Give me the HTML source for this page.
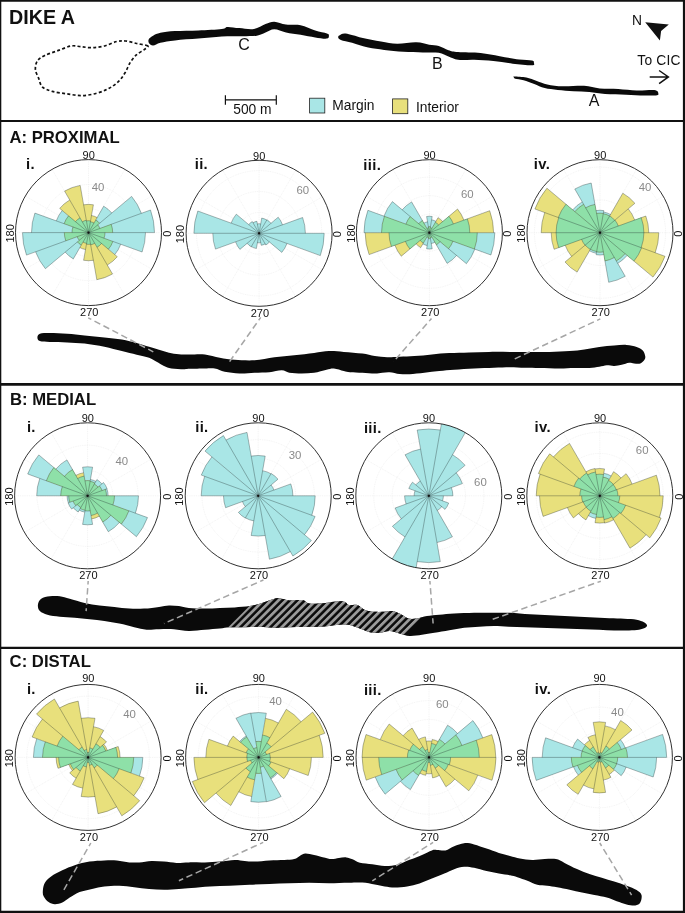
<!DOCTYPE html>
<html lang="en"><head><meta charset="utf-8"><title>Dike A rose diagrams</title>
<style>
html,body{margin:0;padding:0;background:#fff}
body{width:685px;height:913px;overflow:hidden}
svg{display:block}
text{font-family:"Liberation Sans",sans-serif;fill:#111}
.h1{font-weight:700;font-size:19.7px}
.h2{font-weight:700;font-size:16.7px}
.n{font-weight:700;font-size:14.8px;letter-spacing:.35px}
.l{font-size:13.8px}
.l3{font-size:16px}
.l2{font-size:13.8px;letter-spacing:.2px}
.t{font-size:11px;text-anchor:middle}
.g{font-size:11.4px;fill:#8a8a8a;text-anchor:middle}
</style></head><body>
<svg width="685" height="913" viewBox="0 0 685 913">
<defs><pattern id="hatch" width="5.3" height="5.3" patternUnits="userSpaceOnUse" patternTransform="rotate(45) translate(0 0)"><rect width="5.3" height="5.3" fill="#0a0a0a"/><rect width="2.75" height="5.3" fill="#9a9a9a"/></pattern></defs>
<rect width="685" height="913" fill="#fff"/>
<path d="M147.8 46C146.6 44.9 140.3 44.3 136.6 43.5C132.9 42.7 128.8 41.3 125.5 41C122.2 40.7 120.3 40.7 116.8 41.5C113.3 42.3 108.5 44.9 104.4 46C100.2 47 95.9 47.6 92 47.7C88 47.8 84.3 47 80.8 46.7C77.3 46.4 74.8 45.3 70.9 46C66.9 46.7 61.6 49.4 57.2 50.9C52.9 52.5 48.1 53.8 44.8 55.4C41.5 57.1 38.9 58.5 37.4 60.9C35.8 63.2 35.2 66.7 35.4 69.6C35.6 72.4 37.5 75.3 38.6 78.2C39.8 81.1 40.1 84.7 42.3 86.9C44.6 89.1 48.1 90.2 52.3 91.4C56.4 92.5 62.2 93.2 67.1 93.9C72.1 94.6 77.1 95.7 82 95.6C87 95.5 92.4 94.4 96.9 93.1C101.5 91.9 105.6 90.2 109.3 88.2C113.1 86.1 116.6 83.4 119.3 80.7C121.9 78 123.6 75.1 125.5 72C127.3 68.9 128.6 65 130.4 62.1C132.3 59.2 134.4 56.7 136.6 54.7C138.9 52.6 142.2 51.1 144.1 49.7C145.9 48.3 149 47 147.8 46Z" fill="none" stroke="#111" stroke-width="1.7" stroke-dasharray="3 2.3"/>
<path d="M148.8 39.2C149.4 37.9 151.2 36.8 153.1 35.7C155.1 34.6 156.8 33.6 160.4 32.8C164.1 32 168.7 31.4 175 31C181.4 30.6 190.6 30.8 198.4 30.4C206.2 30.1 216.9 29.6 221.8 29C226.6 28.4 224.7 27.1 227.6 26.9C230.5 26.8 234.9 27.8 239.3 28.1C243.6 28.4 249.5 29.7 253.9 29C258.2 28.3 262.1 25.2 265.5 24C269 22.8 270.9 21.6 274.3 21.7C277.7 21.8 281.6 24 286 24.6C290.4 25.2 295.7 24.2 300.6 25.2C305.5 26.2 310.8 29.1 315.2 30.4C319.6 31.8 324.6 32.5 326.9 33.4C329.1 34.2 328.9 34.5 328.9 35.4C328.9 36.3 329.1 38.3 326.9 38.6C324.6 39 319.6 38.1 315.2 37.4C310.8 36.8 305.5 35.6 300.6 34.8C295.7 34 290.4 33.4 286 32.5C281.6 31.6 277.7 29.3 274.3 29.3C270.9 29.3 268.5 31.4 265.5 32.5C262.6 33.6 260.7 35.1 256.8 35.7C252.9 36.3 248 36.1 242.2 36.3C236.4 36.4 229.1 36.2 221.8 36.6C214.5 37 206.2 38 198.4 38.6C190.6 39.2 181.4 39.7 175 40.4C168.7 41 164.1 41.8 160.4 42.7C156.8 43.6 155 45.5 153.1 45.6C151.2 45.7 149.8 44.4 149.1 43.3C148.3 42.2 148.1 40.5 148.8 39.2Z" fill="#0a0a0a"/>
<path d="M339.3 35.4C340.5 34.7 341.9 33.1 345.7 33.5C349.4 33.9 355.9 36.3 361.7 37.7C367.6 39 375.1 40.5 381 41.5C386.9 42.5 391.2 43.7 397.1 43.8C403 43.9 411 42 416.3 42.2C421.7 42.3 425.4 44.1 429.2 44.7C432.9 45.4 435.6 45.1 438.8 46C442 46.9 445.2 49.2 448.5 50.2C451.7 51.2 452.7 51.6 458.1 52.1C463.4 52.6 473.6 52.4 480.6 53.1C487.5 53.8 493.4 55.2 499.8 56.3C506.3 57.4 513.7 58.8 519.1 59.5C524.5 60.2 529.5 59.9 531.9 60.5C534.4 61 533.9 61.9 533.9 62.7C533.9 63.5 535.5 65.1 531.9 65.3C528.4 65.4 519.1 64.4 512.7 63.7C506.3 63 499.8 61.7 493.4 61.1C487 60.5 480 60 474.1 59.8C468.3 59.6 462.4 60.4 458.1 59.8C453.8 59.3 451.7 57.8 448.5 56.6C445.2 55.4 443.1 53.5 438.8 52.8C434.5 52.1 428.6 52.6 422.8 52.4C416.9 52.3 409.9 52.2 403.5 51.8C397.1 51.4 390.1 50.6 384.2 49.9C378.3 49.2 373.5 48.8 368.2 47.6C362.8 46.4 356.7 44.1 352.1 42.8C347.6 41.5 343.2 40.8 340.9 39.9C338.6 39.1 338.6 38.4 338.3 37.7C338 36.9 338 36.1 339.3 35.4Z" fill="#0a0a0a"/>
<path d="M514.5 76.6C516.5 76.6 522.6 76.9 526.3 77.6C530 78.3 533.3 79.9 536.8 81C540.3 82.2 542.9 83.6 547.3 84.4C551.7 85.3 556.9 86.1 563.1 86.3C569.2 86.5 577.9 85.4 584.1 85.7C590.2 86.1 594.1 87.9 599.8 88.4C605.5 88.9 612.1 88.6 618.2 88.9C624.4 89.3 630.9 90.3 636.6 90.5C642.3 90.7 649 89.9 652.4 90C655.8 90 656.2 90.5 657.1 91C658.1 91.5 658.2 92.4 658.2 93.1C658.2 93.8 659.4 94.8 657.1 95.2C654.8 95.6 649.7 95.6 644.5 95.5C639.3 95.4 632.7 94.9 626.1 94.7C619.5 94.4 611.2 94.3 605.1 93.9C599 93.5 594.6 92.5 589.3 92.1C584.1 91.6 578.8 91.6 573.6 91.3C568.3 90.9 562.6 90.5 557.8 90C553 89.4 548.6 89.1 544.7 88.1C540.7 87.1 537.7 85.2 534.2 83.9C530.7 82.6 526.8 81.1 523.6 80.2C520.5 79.4 516.9 79.1 515.2 78.7C513.6 78.2 514.1 78 513.9 77.6C513.8 77.3 512.4 76.6 514.5 76.6Z" fill="#0a0a0a"/>
<text class="h1" x="9" y="24">DIKE A</text>
<text class="l3" x="244" y="49.6" text-anchor="middle">C</text>
<text class="l3" x="437.4" y="68.8" text-anchor="middle">B</text>
<text class="l3" x="594.1" y="105.8" text-anchor="middle">A</text>
<text class="l2" x="631.9" y="24.9">N</text>
<path d="M645.2 22.3L668.8 24.5L661.1 30.9L659.9 40.5Z" fill="#111"/>
<text class="l2" x="637.3" y="65.4">To CIC</text>
<path d="M649.7 76.9H668M659.1 70.5L668.4 76.9L659.1 83.6" fill="none" stroke="#111" stroke-width="1.5"/>
<path d="M225.4 99.8H276.3M225.4 95.2V104.7M276.3 95.2V104.7" fill="none" stroke="#111" stroke-width="1.2"/>
<text class="l" x="252.4" y="114" text-anchor="middle">500 m</text>
<rect x="309.6" y="98.2" width="15.2" height="14.8" fill="#A9E6E6" stroke="#222" stroke-width="0.8"/>
<text class="l" x="332.3" y="110.2">Margin</text>
<rect x="392.6" y="98.9" width="15.2" height="14.8" fill="#E8E07C" stroke="#222" stroke-width="0.8"/>
<text class="l" x="416" y="111.6">Interior</text>
<text class="h2" x="9.4" y="142.9">A: PROXIMAL</text>
<text class="h2" x="9.9" y="404.9">B: MEDIAL</text>
<text class="h2" x="9.6" y="666.7">C: DISTAL</text>
<path d="M37.4 337.4C37.4 336.2 37.8 334.4 39.9 333.7C42 332.9 45.3 332.9 49.9 332.9C54.5 332.9 61.4 333.3 67.2 333.7C73 334.1 78.4 334.8 84.6 335.4C90.8 336 98.2 336.7 104.4 337.4C110.6 338.1 116.4 338.5 121.8 339.4C127.2 340.3 132.1 341.7 136.7 342.9C141.2 344.1 145.4 345.6 149.1 346.8C152.8 348 155.7 348.8 159 349.8C162.3 350.8 165.7 352.1 169 352.8C172.3 353.6 175.4 354 178.9 354.3C182.4 354.6 185.7 354.4 190 354.4C194.3 354.4 199.9 353.8 204.9 354.4C209.9 355 214.8 356.9 219.8 357.8C224.8 358.7 228.9 359.4 234.7 359.8C240.5 360.2 247.9 360.7 254.5 360.3C261.1 359.9 267.8 358.1 274.4 357.3C281 356.5 287.6 356 294.2 355.3C300.8 354.6 308.3 353.6 314.1 352.9C319.9 352.2 324.1 351.3 329 351.1C333.9 350.9 338.2 351.5 343.8 351.9C349.4 352.3 357.2 352.9 362.4 353.6C367.6 354.3 370.7 355.5 374.8 356.1C378.9 356.7 383.1 357.2 387.2 357.3C391.3 357.4 395.1 357 399.6 356.8C404.2 356.6 409.1 356.5 414.5 356.1C419.9 355.7 426.1 354.9 431.9 354.4C437.7 353.9 443.1 353.4 449.3 353.1C455.5 352.8 462.5 352.6 469.1 352.4C475.7 352.2 482.2 352 489 351.9C495.8 351.8 503.2 351.9 510 351.9C516.8 351.9 523.3 351.9 529.9 351.9C536.5 351.9 543.1 352 549.7 351.9C556.3 351.8 563.8 351.5 569.6 351.1C575.4 350.7 579.5 350.1 584.4 349.4C589.3 348.7 594.3 347.6 599.3 346.9C604.3 346.2 609.7 345.7 614.2 345.4C618.8 345.1 622.9 344.6 626.6 344.9C630.3 345.1 633.9 346 636.6 346.9C639.3 347.8 641.4 348.9 642.8 350.4C644.2 351.9 644.9 354.5 645.2 356.1C645.5 357.7 645.3 358.6 644.5 359.8C643.7 361 642 362.9 640.3 363.5C638.6 364.1 636 363.6 634.1 363.5C632.2 363.4 631.2 362.6 629.1 362.8C627 363 624.2 364.3 621.7 364.8C619.2 365.3 616.7 365.9 614.2 366C611.7 366.1 609.3 365.2 606.8 365.3C604.3 365.4 602.2 366.4 599.3 366.8C596.4 367.2 593.5 367.8 589.4 368C585.3 368.2 579.5 367.9 574.5 368C569.5 368.1 565.4 368.5 559.6 368.5C553.8 368.5 545.6 368.1 539.8 368C534 367.9 529.9 367.9 524.9 367.8C519.9 367.7 515.2 367.3 510 367.3C504.8 367.3 499.9 367.6 493.9 367.8C487.9 368 480.7 368.2 474.1 368.5C467.5 368.8 460 369.3 454.2 369.7C448.4 370.1 444.3 370.5 439.3 371C434.3 371.5 429.3 372.2 424.4 372.7C419.4 373.2 413.7 374 409.6 374.2C405.5 374.4 402.9 374.3 399.6 374C396.3 373.7 392.6 372.4 389.7 372.2C386.8 372 384.8 372.5 382.3 372.7C379.8 372.9 378.1 373.5 374.8 373.5C371.5 373.5 366.5 372.9 362.4 372.7C358.3 372.5 353.1 372.5 350 372.2C346.9 371.9 346.5 371.6 343.8 371C341.1 370.4 336.8 368.7 333.9 368.5C331 368.3 329.8 369 326.5 369.7C323.2 370.4 318.2 372.1 314.1 372.7C310 373.3 305.8 373.5 301.7 373.5C297.6 373.5 292.6 373.2 289.3 372.7C286 372.1 285.1 370.3 281.8 370.2C278.5 370.1 273.9 371.8 269.4 372.2C264.8 372.6 259.5 372.5 254.5 372.7C249.5 372.9 244.6 373.7 239.6 373.5C234.6 373.3 228.8 372.5 224.7 371.7C220.6 370.9 218.1 369 214.8 368.5C211.5 368 209 368.4 204.9 368.5C200.8 368.6 193.5 368.7 190 368.8C186.5 368.9 186.9 369.3 183.8 369.2C180.7 369.1 174.7 368.9 171.4 368.4C168.1 367.8 166.5 367 164 365.9C161.5 364.8 159.1 363 156.6 361.7C154.1 360.4 152.4 358.9 149.1 357.8C145.8 356.7 141.2 355.9 136.7 354.8C132.1 353.7 127.2 352.4 121.8 351.1C116.4 349.8 110.6 348.1 104.4 346.8C98.2 345.6 90.8 344.3 84.6 343.6C78.4 342.9 73 342.7 67.2 342.4C61.4 342.1 54.5 342.1 49.9 341.9C45.3 341.7 42 341.9 39.9 341.1C37.8 340.4 37.4 338.6 37.4 337.4Z" fill="#0a0a0a"/>
<path d="M37.9 604.9C38.1 602.8 39.2 600.2 41.2 598.7C43.2 597.2 46.8 596.6 49.9 596.2C53 595.8 56.5 595.8 59.8 596.2C63.1 596.6 65.6 597.6 69.7 598.7C73.8 599.8 79.6 601.8 84.6 602.9C89.6 604 94.5 604.7 99.5 605.4C104.5 606.1 109.4 606.4 114.4 606.9C119.4 607.4 124.4 608.3 129.3 608.6C134.2 608.9 139.2 608.9 144.1 608.6C149 608.3 154.8 607.4 159 606.9C163.2 606.4 165.7 605.5 169 605.4C172.3 605.3 175.6 605.7 178.9 606.1C182.2 606.5 184.5 607.5 188.8 607.9C193.1 608.3 199.7 608.6 204.9 608.6C210.1 608.6 214.8 608.1 219.8 607.9C224.8 607.7 229.7 607.7 234.7 607.4C239.7 607.1 245 606.9 249.6 606.1C254.2 605.4 258.3 604 262 602.9C265.7 601.8 269 600.2 271.9 599.4C274.8 598.6 276.4 598 279.3 598.2C282.2 598.4 286 600.1 289.3 600.4C292.6 600.7 296.7 599.9 299.2 599.9C301.7 599.9 302.5 599.8 304.1 600.4C305.8 601 306.6 603.1 309.1 603.6C311.6 604.1 315.7 603.8 319 603.6C322.3 603.4 325.7 602.8 329 602.4C332.3 602 336.2 601.3 338.9 601.2C341.6 601.1 343.5 601.3 345.1 601.9C346.8 602.5 346.8 604.4 348.8 604.9C350.9 605.4 354.7 604.1 357.4 604.9C360.1 605.7 362 608.8 364.9 609.9C367.8 611 371.5 611.5 374.8 611.8C378.1 612.1 381.8 611.9 384.7 611.8C387.6 611.7 389.7 610.8 392.2 611.1C394.7 611.4 396.9 612.4 399.6 613.6C402.3 614.8 405.4 617.7 408.3 618.5C411.2 619.3 413.9 618.9 417 618.5C420.1 618.1 423.2 616.7 426.9 616.1C430.6 615.5 434.8 615.2 439.3 614.8C443.9 614.4 448.4 613.9 454.2 613.6C460 613.3 467.5 612.9 474.1 612.8C480.7 612.7 487.9 612.8 493.9 612.8C499.9 612.8 504 612.5 510 612.8C516 613 523.3 613.9 529.9 614.3C536.5 614.7 543.1 615 549.7 615.3C556.3 615.6 563 616 569.6 616.3C576.2 616.6 582.8 617 589.4 617.3C596 617.6 603.5 618 609.3 618.3C615.1 618.5 619.5 618.5 624.1 618.8C628.7 619 633.3 619.2 636.6 619.8C639.9 620.4 642.3 621.4 644 622.3C645.7 623.2 646.8 624.3 647 625.2C647.2 626.1 646.5 627 645.2 627.7C643.9 628.5 641.7 629.2 639 629.7C636.3 630.2 633.2 630.3 629.1 630.4C625 630.5 619.2 630.5 614.2 630.4C609.2 630.3 604.3 629.9 599.3 629.7C594.3 629.5 589.3 629.4 584.4 629.2C579.5 629 574.5 628.9 569.6 628.7C564.7 628.5 559.7 628.4 554.7 628.2C549.7 628 544.8 627.9 539.8 627.7C534.8 627.5 530.1 627.4 524.9 627.2C519.7 627 514 626.9 508.8 626.7C503.6 626.5 498.9 626 493.9 626C488.9 626 484 626.4 479 626.7C474 627 469.1 627.1 464.1 627.7C459.2 628.3 454.2 629.4 449.3 630.2C444.4 631 438.9 632 434.4 632.7C429.8 633.5 426.1 634.2 422 634.7C417.9 635.2 413.3 636.1 409.6 635.9C405.9 635.7 402.9 634.2 399.6 633.4C396.3 632.6 393 631 389.7 630.9C386.4 630.8 383.1 632.5 379.8 632.7C376.5 632.9 373.2 632.9 369.9 632.2C366.6 631.5 363.4 629.8 359.9 628.5C356.4 627.2 352.3 625.3 348.8 624.7C345.3 624.1 342.2 624.5 338.9 624.7C335.6 624.9 332.3 625.7 329 626C325.7 626.3 323.1 626.6 319 626.7C314.9 626.8 309.1 626.6 304.1 626.7C299.2 626.8 294.2 627 289.3 627.2C284.4 627.4 279.4 627.8 274.4 627.7C269.4 627.6 264.5 626.8 259.5 626.7C254.5 626.6 249.6 627.1 244.6 627.2C239.6 627.3 233.8 627 229.7 627.2C225.6 627.4 223.9 628.1 219.8 628.5C215.7 628.9 210.1 629.3 204.9 629.7C199.7 630.1 194 631 188.8 630.9C183.6 630.8 178.9 629.5 173.9 629.2C168.9 628.9 163.6 629.1 159 629.2C154.4 629.3 150.7 630 146.6 629.7C142.5 629.4 138.8 628.2 134.2 627.2C129.6 626.2 124.3 624.5 119.3 623.5C114.3 622.5 109.4 621.7 104.4 621C99.5 620.3 94.5 619.8 89.6 619.3C84.6 618.8 79.7 618.2 74.7 617.8C69.7 617.4 64.3 617.3 59.8 616.8C55.2 616.3 50.7 615.8 47.4 614.8C44.1 613.8 41.5 612.8 39.9 611.1C38.3 609.5 37.7 607 37.9 604.9Z" fill="#0a0a0a"/>
<clipPath id="hb"><path d="M259.5 596L443 596L399 640L215.5 640Z"/></clipPath>
<path d="M37.9 604.9C38.1 602.8 39.2 600.2 41.2 598.7C43.2 597.2 46.8 596.6 49.9 596.2C53 595.8 56.5 595.8 59.8 596.2C63.1 596.6 65.6 597.6 69.7 598.7C73.8 599.8 79.6 601.8 84.6 602.9C89.6 604 94.5 604.7 99.5 605.4C104.5 606.1 109.4 606.4 114.4 606.9C119.4 607.4 124.4 608.3 129.3 608.6C134.2 608.9 139.2 608.9 144.1 608.6C149 608.3 154.8 607.4 159 606.9C163.2 606.4 165.7 605.5 169 605.4C172.3 605.3 175.6 605.7 178.9 606.1C182.2 606.5 184.5 607.5 188.8 607.9C193.1 608.3 199.7 608.6 204.9 608.6C210.1 608.6 214.8 608.1 219.8 607.9C224.8 607.7 229.7 607.7 234.7 607.4C239.7 607.1 245 606.9 249.6 606.1C254.2 605.4 258.3 604 262 602.9C265.7 601.8 269 600.2 271.9 599.4C274.8 598.6 276.4 598 279.3 598.2C282.2 598.4 286 600.1 289.3 600.4C292.6 600.7 296.7 599.9 299.2 599.9C301.7 599.9 302.5 599.8 304.1 600.4C305.8 601 306.6 603.1 309.1 603.6C311.6 604.1 315.7 603.8 319 603.6C322.3 603.4 325.7 602.8 329 602.4C332.3 602 336.2 601.3 338.9 601.2C341.6 601.1 343.5 601.3 345.1 601.9C346.8 602.5 346.8 604.4 348.8 604.9C350.9 605.4 354.7 604.1 357.4 604.9C360.1 605.7 362 608.8 364.9 609.9C367.8 611 371.5 611.5 374.8 611.8C378.1 612.1 381.8 611.9 384.7 611.8C387.6 611.7 389.7 610.8 392.2 611.1C394.7 611.4 396.9 612.4 399.6 613.6C402.3 614.8 405.4 617.7 408.3 618.5C411.2 619.3 413.9 618.9 417 618.5C420.1 618.1 423.2 616.7 426.9 616.1C430.6 615.5 434.8 615.2 439.3 614.8C443.9 614.4 448.4 613.9 454.2 613.6C460 613.3 467.5 612.9 474.1 612.8C480.7 612.7 487.9 612.8 493.9 612.8C499.9 612.8 504 612.5 510 612.8C516 613 523.3 613.9 529.9 614.3C536.5 614.7 543.1 615 549.7 615.3C556.3 615.6 563 616 569.6 616.3C576.2 616.6 582.8 617 589.4 617.3C596 617.6 603.5 618 609.3 618.3C615.1 618.5 619.5 618.5 624.1 618.8C628.7 619 633.3 619.2 636.6 619.8C639.9 620.4 642.3 621.4 644 622.3C645.7 623.2 646.8 624.3 647 625.2C647.2 626.1 646.5 627 645.2 627.7C643.9 628.5 641.7 629.2 639 629.7C636.3 630.2 633.2 630.3 629.1 630.4C625 630.5 619.2 630.5 614.2 630.4C609.2 630.3 604.3 629.9 599.3 629.7C594.3 629.5 589.3 629.4 584.4 629.2C579.5 629 574.5 628.9 569.6 628.7C564.7 628.5 559.7 628.4 554.7 628.2C549.7 628 544.8 627.9 539.8 627.7C534.8 627.5 530.1 627.4 524.9 627.2C519.7 627 514 626.9 508.8 626.7C503.6 626.5 498.9 626 493.9 626C488.9 626 484 626.4 479 626.7C474 627 469.1 627.1 464.1 627.7C459.2 628.3 454.2 629.4 449.3 630.2C444.4 631 438.9 632 434.4 632.7C429.8 633.5 426.1 634.2 422 634.7C417.9 635.2 413.3 636.1 409.6 635.9C405.9 635.7 402.9 634.2 399.6 633.4C396.3 632.6 393 631 389.7 630.9C386.4 630.8 383.1 632.5 379.8 632.7C376.5 632.9 373.2 632.9 369.9 632.2C366.6 631.5 363.4 629.8 359.9 628.5C356.4 627.2 352.3 625.3 348.8 624.7C345.3 624.1 342.2 624.5 338.9 624.7C335.6 624.9 332.3 625.7 329 626C325.7 626.3 323.1 626.6 319 626.7C314.9 626.8 309.1 626.6 304.1 626.7C299.2 626.8 294.2 627 289.3 627.2C284.4 627.4 279.4 627.8 274.4 627.7C269.4 627.6 264.5 626.8 259.5 626.7C254.5 626.6 249.6 627.1 244.6 627.2C239.6 627.3 233.8 627 229.7 627.2C225.6 627.4 223.9 628.1 219.8 628.5C215.7 628.9 210.1 629.3 204.9 629.7C199.7 630.1 194 631 188.8 630.9C183.6 630.8 178.9 629.5 173.9 629.2C168.9 628.9 163.6 629.1 159 629.2C154.4 629.3 150.7 630 146.6 629.7C142.5 629.4 138.8 628.2 134.2 627.2C129.6 626.2 124.3 624.5 119.3 623.5C114.3 622.5 109.4 621.7 104.4 621C99.5 620.3 94.5 619.8 89.6 619.3C84.6 618.8 79.7 618.2 74.7 617.8C69.7 617.4 64.3 617.3 59.8 616.8C55.2 616.3 50.7 615.8 47.4 614.8C44.1 613.8 41.5 612.8 39.9 611.1C38.3 609.5 37.7 607 37.9 604.9Z" fill="url(#hatch)" clip-path="url(#hb)"/>
<path d="M42.9 890.1C43.1 887.8 43.5 885 44.9 882.7C46.3 880.4 48.2 878.6 51.1 876.5C54 874.4 58.4 872.2 62.3 870.3C66.2 868.4 70.2 866.8 74.7 865.3C79.2 863.8 84.6 862.4 89.6 861.6C94.5 860.8 99.9 860.6 104.4 860.4C108.9 860.2 112.6 860.1 116.8 860.4C121 860.7 125.6 862.1 129.3 862.4C133 862.7 135.5 862.6 139.2 862.4C142.9 862.1 147.5 861 151.6 860.9C155.7 860.8 159.9 861.3 164 861.6C168.1 861.9 172.3 862.8 176.4 862.9C180.5 863 184.1 862.5 188.8 862.4C193.6 862.3 199.7 862.5 204.9 862.4C210.1 862.3 214.8 862 219.8 861.6C224.8 861.2 230.6 860 234.7 859.9C238.8 859.8 241.3 860.6 244.6 860.9C247.9 861.2 250.4 861.7 254.5 861.6C258.6 861.5 264.4 860.7 269.4 860.4C274.4 860.1 280.2 860.1 284.3 859.9C288.4 859.7 291.5 859.9 294.2 859.1C296.9 858.4 298.5 856.4 300.4 855.4C302.3 854.4 303.1 853.5 305.4 853.4C307.7 853.3 311 854.2 314.1 854.9C317.2 855.6 321.1 856.7 324 857.4C326.9 858.1 328.9 859 331.4 859.1C333.9 859.2 336.4 858.2 338.9 857.9C341.4 857.6 344 857.2 346.3 857.4C348.6 857.6 350.2 858.4 352.5 859.3C354.8 860.2 356.6 862 359.9 862.8C363.2 863.6 368.2 863.8 372.3 864.3C376.4 864.8 380.6 865.9 384.7 866C388.8 866.1 393 865.8 397.1 864.8C401.2 863.8 405.5 861.4 409.6 859.8C413.8 858.1 418.3 856.5 422 854.9C425.7 853.3 429.4 851.2 431.9 850.4C434.4 849.6 434.5 849.9 436.8 849.9C439.1 849.9 442.6 851 445.5 850.4C448.4 849.8 451.1 847.4 454.2 846.2C457.3 845 460.8 843.5 464.1 843.2C467.4 842.9 470.4 843.5 474.1 844.4C477.8 845.3 482.4 847.2 486.5 848.6C490.6 850 495 851.7 498.9 852.9C502.8 854.1 506.5 855 510 855.9C513.5 856.8 516.2 857.7 519.9 858.4C523.6 859.1 528.2 859.8 532.3 859.9C536.4 860 540.8 859.2 544.7 859.1C548.6 859 552.6 858.5 555.9 859.1C559.2 859.7 561.1 861.2 564.6 862.9C568.1 864.6 572.9 867.2 577 869.1C581.1 871 585.3 872.6 589.4 874C593.5 875.4 597.7 876.5 601.8 877.7C605.9 879 610.1 880.2 614.2 881.5C618.3 882.8 622.9 884.3 626.6 885.7C630.3 887.1 634.1 888.5 636.6 890.1C639.1 891.7 640.9 893 641.5 895.1C642.1 897.2 641.3 900.9 640.3 902.6C639.3 904.3 637.6 905.2 635.3 905.5C633 905.8 629.7 905.2 626.6 904.5C623.5 903.8 620 902.4 616.7 901.3C613.4 900.1 610.5 898.6 606.8 897.6C603.1 896.6 598.5 895.9 594.4 895.1C590.3 894.3 586.1 893.5 582 892.6C577.9 891.7 573.8 890.6 569.6 889.7C565.5 888.8 560.8 887.9 557.1 887.2C553.4 886.5 550.5 886.1 547.2 885.7C543.9 885.3 540.6 885.5 537.3 884.7C534 883.9 530.7 882 527.4 880.7C524.1 879.5 520.3 878.1 517.4 877.2C514.5 876.3 513.1 875.9 510 875.3C506.9 874.7 502.8 874.2 498.9 873.5C495 872.8 490.6 872 486.5 871C482.4 870 477.8 868.5 474.1 867.8C470.4 867.1 467.4 866.6 464.1 866.8C460.8 867 457.5 868.1 454.2 869.2C450.9 870.3 448 872 444.3 873.5C440.6 875 436 876.8 431.9 878.4C427.8 880 423.6 882 419.5 883.4C415.4 884.8 411.2 885.9 407.1 886.6C403 887.3 398.4 887.6 394.7 887.6C391 887.6 388 887.1 384.7 886.6C381.4 886.1 378.5 885.3 374.8 884.6C371.1 883.9 366.7 882.9 362.4 882.6C358.1 882.3 354.4 882.6 348.8 882.7C343.2 882.8 335.6 883.2 329 883.2C322.4 883.2 315.7 882.7 309.1 882.7C302.5 882.7 295.9 883 289.3 883.2C282.7 883.4 276 883.6 269.4 883.9C262.8 884.1 256.2 884.4 249.6 884.7C243 885 236.3 885.4 229.7 885.7C223.1 886 216.3 886 209.9 886.4C203.5 886.8 196.5 887.6 191.3 888C186.1 888.4 183.5 888.6 178.9 888.9C174.3 889.2 169 889.7 164 889.7C159 889.7 154.1 889.3 149.1 888.9C144.1 888.5 139.2 887.7 134.2 887.2C129.2 886.7 124.3 885.8 119.3 885.7C114.3 885.6 109 885.9 104.4 886.4C99.9 886.9 96.1 887.9 92 888.9C87.9 889.9 83.3 890.6 79.6 892.1C75.9 893.6 72.6 895.9 69.7 897.6C66.8 899.4 64.8 901.5 62.3 902.6C59.8 903.7 57.1 904.4 54.8 904.3C52.5 904.2 50.5 903.4 48.6 902.1C46.7 900.8 44.6 898.3 43.6 896.3C42.6 894.3 42.7 892.4 42.9 890.1Z" fill="#0a0a0a"/>
<clipPath id="c00"><circle cx="88.5" cy="232.6" r="73"/></clipPath>
<g fill="none" stroke="#ebebeb" stroke-width="0.6" stroke-dasharray="1 0.8"><circle cx="88.5" cy="232.6" r="24"/><circle cx="88.5" cy="232.6" r="48"/><path d="M15.5 232.6L161.5 232.6"/><path d="M25.3 269.1L151.7 196.1"/><path d="M52 295.8L125 169.3"/><path d="M88.5 305.6L88.5 159.6"/><path d="M125 295.8L52 169.3"/><path d="M151.7 269.1L25.3 196.1"/></g>
<g clip-path="url(#c00)">
<path fill="#A9E6E6" d="M88.5 232.6L154.5 232.6A66 66 0 0 0 150.5 210ZM88.5 232.6L141.4 213.3A56.3 56.3 0 0 0 131.6 196.4ZM88.5 232.6L111.8 213A30.4 30.4 0 0 0 103.7 206.2ZM88.5 232.6L94 223A11 11 0 0 0 90.4 221.7ZM88.5 232.6L90.5 220.9A11.8 11.8 0 0 0 86.5 220.9ZM88.5 232.6L86.3 220.3A12.4 12.4 0 0 0 82.3 221.8ZM88.5 232.6L80 217.8A17 17 0 0 0 75.5 221.6ZM88.5 232.6L62.2 210.5A34.3 34.3 0 0 0 56.3 220.8ZM88.5 232.6L34.9 213.1A57 57 0 0 0 31.5 232.6ZM88.5 232.6L22.5 232.6A66 66 0 0 0 26.5 255.1ZM88.5 232.6L35.6 251.8A56.3 56.3 0 0 0 45.4 268.7ZM88.5 232.6L65.2 252.1A30.4 30.4 0 0 0 73.3 258.9ZM88.5 232.6L83 242.1A11 11 0 0 0 86.6 243.4ZM88.5 232.6L86.5 244.2A11.8 11.8 0 0 0 90.5 244.2ZM88.5 232.6L90.7 244.8A12.4 12.4 0 0 0 94.7 243.3ZM88.5 232.6L97 247.3A17 17 0 0 0 101.5 243.5ZM88.5 232.6L114.8 254.6A34.3 34.3 0 0 0 120.7 244.3ZM88.5 232.6L142.1 252A57 57 0 0 0 145.5 232.6Z"/>
<path fill="#E8E07C" d="M88.5 232.6L112.7 232.6A24.2 24.2 0 0 0 111.2 224.3ZM88.5 232.6L99.8 228.4A12 12 0 0 0 97.7 224.8ZM88.5 232.6L99.6 223.2A14.5 14.5 0 0 0 95.8 220ZM88.5 232.6L97.2 217.6A17.3 17.3 0 0 0 91.5 215.5ZM88.5 232.6L93.4 204.8A28.2 28.2 0 0 0 83.6 204.8ZM88.5 232.6L80.2 185.4A47.9 47.9 0 0 0 64.6 191.1ZM88.5 232.6L69.7 200A37.6 37.6 0 0 0 59.7 208.4ZM88.5 232.6L68.6 215.8A26 26 0 0 0 64.1 223.7ZM88.5 232.6L73 226.9A16.5 16.5 0 0 0 72 232.6ZM88.5 232.6L64.3 232.6A24.2 24.2 0 0 0 65.8 240.8ZM88.5 232.6L77.2 236.7A12 12 0 0 0 79.3 240.3ZM88.5 232.6L77.4 241.9A14.5 14.5 0 0 0 81.2 245.1ZM88.5 232.6L79.8 247.5A17.3 17.3 0 0 0 85.5 249.6ZM88.5 232.6L83.6 260.3A28.2 28.2 0 0 0 93.4 260.3ZM88.5 232.6L96.8 279.7A47.9 47.9 0 0 0 112.5 274ZM88.5 232.6L107.3 265.1A37.6 37.6 0 0 0 117.3 256.7ZM88.5 232.6L108.4 249.3A26 26 0 0 0 112.9 241.4ZM88.5 232.6L104 238.2A16.5 16.5 0 0 0 105 232.6Z"/>
<path fill="#8EE0A8" d="M88.5 232.6L112.7 232.6A24.2 24.2 0 0 0 111.2 224.3ZM88.5 232.6L99.8 228.4A12 12 0 0 0 97.7 224.8ZM88.5 232.6L99.6 223.2A14.5 14.5 0 0 0 95.8 220ZM88.5 232.6L94 223A11 11 0 0 0 90.4 221.7ZM88.5 232.6L90.5 220.9A11.8 11.8 0 0 0 86.5 220.9ZM88.5 232.6L86.3 220.3A12.4 12.4 0 0 0 82.3 221.8ZM88.5 232.6L80 217.8A17 17 0 0 0 75.5 221.6ZM88.5 232.6L68.6 215.8A26 26 0 0 0 64.1 223.7ZM88.5 232.6L73 226.9A16.5 16.5 0 0 0 72 232.6ZM88.5 232.6L64.3 232.6A24.2 24.2 0 0 0 65.8 240.8ZM88.5 232.6L77.2 236.7A12 12 0 0 0 79.3 240.3ZM88.5 232.6L77.4 241.9A14.5 14.5 0 0 0 81.2 245.1ZM88.5 232.6L83 242.1A11 11 0 0 0 86.6 243.4ZM88.5 232.6L86.5 244.2A11.8 11.8 0 0 0 90.5 244.2ZM88.5 232.6L90.7 244.8A12.4 12.4 0 0 0 94.7 243.3ZM88.5 232.6L97 247.3A17 17 0 0 0 101.5 243.5ZM88.5 232.6L108.4 249.3A26 26 0 0 0 112.9 241.4ZM88.5 232.6L104 238.2A16.5 16.5 0 0 0 105 232.6Z"/>
<path fill="none" stroke="#1f2a2a" stroke-opacity="0.8" stroke-width="0.42" stroke-linejoin="round" d="M154.5 232.6A66 66 0 0 0 150.5 210M112.7 232.6A24.2 24.2 0 0 0 111.2 224.3M88.5 232.6L154.5 232.6M141.4 213.3A56.3 56.3 0 0 0 131.6 196.4M99.8 228.4A12 12 0 0 0 97.7 224.8M88.5 232.6L150.5 210M111.8 213A30.4 30.4 0 0 0 103.7 206.2M99.6 223.2A14.5 14.5 0 0 0 95.8 220M88.5 232.6L131.6 196.4M94 223A11 11 0 0 0 90.4 221.7M97.2 217.6A17.3 17.3 0 0 0 91.5 215.5M88.5 232.6L103.7 206.2M90.5 220.9A11.8 11.8 0 0 0 86.5 220.9M93.4 204.8A28.2 28.2 0 0 0 83.6 204.8M88.5 232.6L93.4 204.8M86.3 220.3A12.4 12.4 0 0 0 82.3 221.8M80.2 185.4A47.9 47.9 0 0 0 64.6 191.1M88.5 232.6L80.2 185.4M80 217.8A17 17 0 0 0 75.5 221.6M69.7 200A37.6 37.6 0 0 0 59.7 208.4M88.5 232.6L64.6 191.1M62.2 210.5A34.3 34.3 0 0 0 56.3 220.8M68.6 215.8A26 26 0 0 0 64.1 223.7M88.5 232.6L59.7 208.4M34.9 213.1A57 57 0 0 0 31.5 232.6M73 226.9A16.5 16.5 0 0 0 72 232.6M88.5 232.6L34.9 213.1M22.5 232.6A66 66 0 0 0 26.5 255.1M64.3 232.6A24.2 24.2 0 0 0 65.8 240.8M88.5 232.6L22.5 232.6M35.6 251.8A56.3 56.3 0 0 0 45.4 268.7M77.2 236.7A12 12 0 0 0 79.3 240.3M88.5 232.6L26.5 255.1M65.2 252.1A30.4 30.4 0 0 0 73.3 258.9M77.4 241.9A14.5 14.5 0 0 0 81.2 245.1M88.5 232.6L45.4 268.7M83 242.1A11 11 0 0 0 86.6 243.4M79.8 247.5A17.3 17.3 0 0 0 85.5 249.6M88.5 232.6L73.3 258.9M86.5 244.2A11.8 11.8 0 0 0 90.5 244.2M83.6 260.3A28.2 28.2 0 0 0 93.4 260.3M88.5 232.6L83.6 260.3M90.7 244.8A12.4 12.4 0 0 0 94.7 243.3M96.8 279.7A47.9 47.9 0 0 0 112.5 274M88.5 232.6L96.8 279.7M97 247.3A17 17 0 0 0 101.5 243.5M107.3 265.1A37.6 37.6 0 0 0 117.3 256.7M88.5 232.6L112.5 274M114.8 254.6A34.3 34.3 0 0 0 120.7 244.3M108.4 249.3A26 26 0 0 0 112.9 241.4M88.5 232.6L117.3 256.7M142.1 252A57 57 0 0 0 145.5 232.6M104 238.2A16.5 16.5 0 0 0 105 232.6M88.5 232.6L142.1 252"/>
</g>
<circle cx="88.5" cy="232.6" r="1.1" fill="#111"/>
<circle cx="88.5" cy="232.6" r="73" fill="none" stroke="#1a1a1a" stroke-width="0.9"/>
<text class="t" x="88.7" y="159">90</text>
<text class="t" x="89.3" y="315.9">270</text>
<text class="t" transform="translate(170.5 233.6) rotate(-90)">0</text>
<text class="t" transform="translate(13.6 233.4) rotate(-90)">180</text>
<text class="g" x="98" y="190.9">40</text>
<text class="n" x="26" y="168.9">i.</text>
<clipPath id="c01"><circle cx="259.1" cy="233.3" r="73"/></clipPath>
<g fill="none" stroke="#ebebeb" stroke-width="0.6" stroke-dasharray="1 0.8"><circle cx="259.1" cy="233.3" r="20.9"/><circle cx="259.1" cy="233.3" r="41.8"/><circle cx="259.1" cy="233.3" r="62.7"/><path d="M186.1 233.3L332.1 233.3"/><path d="M195.8 269.8L322.3 196.8"/><path d="M222.6 296.5L295.6 170.1"/><path d="M259.1 306.3L259.1 160.3"/><path d="M295.6 296.5L222.6 170.1"/><path d="M322.3 269.8L195.8 196.8"/></g>
<g clip-path="url(#c01)">
<path fill="#A9E6E6" d="M259.1 233.3L305.4 233.3A46.3 46.3 0 0 0 302.6 217.5ZM259.1 233.3L282.5 224.7A25 25 0 0 0 278.2 217.2ZM259.1 233.3L271 223.3A15.6 15.6 0 0 0 266.9 219.8ZM259.1 233.3L266.8 220A15.4 15.4 0 0 0 261.7 218.1ZM259.1 233.3L260.7 223.9A9.5 9.5 0 0 0 257.4 223.9ZM259.1 233.3L256.9 221.3A12.2 12.2 0 0 0 253 222.7ZM259.1 233.3L252.3 221.6A13.5 13.5 0 0 0 248.7 224.6ZM259.1 233.3L236.3 214.2A29.7 29.7 0 0 0 231.1 223.1ZM259.1 233.3L197.8 211A65.2 65.2 0 0 0 193.9 233.3ZM259.1 233.3L212.8 233.3A46.3 46.3 0 0 0 215.5 249.1ZM259.1 233.3L235.6 241.9A25 25 0 0 0 239.9 249.4ZM259.1 233.3L247.1 243.3A15.6 15.6 0 0 0 251.2 246.8ZM259.1 233.3L251.3 246.6A15.4 15.4 0 0 0 256.4 248.5ZM259.1 233.3L257.4 242.7A9.5 9.5 0 0 0 260.7 242.7ZM259.1 233.3L261.2 245.3A12.2 12.2 0 0 0 265.2 243.9ZM259.1 233.3L265.8 245A13.5 13.5 0 0 0 269.4 242ZM259.1 233.3L281.8 252.4A29.7 29.7 0 0 0 287 243.5ZM259.1 233.3L320.3 255.6A65.2 65.2 0 0 0 324.2 233.3Z"/>
<path fill="none" stroke="#1f2a2a" stroke-opacity="0.8" stroke-width="0.42" stroke-linejoin="round" d="M305.4 233.3A46.3 46.3 0 0 0 302.6 217.5M259.1 233.3L324.2 233.3M282.5 224.7A25 25 0 0 0 278.2 217.2M259.1 233.3L302.6 217.5M271 223.3A15.6 15.6 0 0 0 266.9 219.8M259.1 233.3L278.2 217.2M266.8 220A15.4 15.4 0 0 0 261.7 218.1M259.1 233.3L266.9 219.8M260.7 223.9A9.5 9.5 0 0 0 257.4 223.9M259.1 233.3L261.7 218.1M256.9 221.3A12.2 12.2 0 0 0 253 222.7M259.1 233.3L256.9 221.3M252.3 221.6A13.5 13.5 0 0 0 248.7 224.6M259.1 233.3L252.3 221.6M236.3 214.2A29.7 29.7 0 0 0 231.1 223.1M259.1 233.3L236.3 214.2M197.8 211A65.2 65.2 0 0 0 193.9 233.3M259.1 233.3L197.8 211M212.8 233.3A46.3 46.3 0 0 0 215.5 249.1M259.1 233.3L193.9 233.3M235.6 241.9A25 25 0 0 0 239.9 249.4M259.1 233.3L215.5 249.1M247.1 243.3A15.6 15.6 0 0 0 251.2 246.8M259.1 233.3L239.9 249.4M251.3 246.6A15.4 15.4 0 0 0 256.4 248.5M259.1 233.3L251.2 246.8M257.4 242.7A9.5 9.5 0 0 0 260.7 242.7M259.1 233.3L256.4 248.5M261.2 245.3A12.2 12.2 0 0 0 265.2 243.9M259.1 233.3L261.2 245.3M265.8 245A13.5 13.5 0 0 0 269.4 242M259.1 233.3L265.8 245M281.8 252.4A29.7 29.7 0 0 0 287 243.5M259.1 233.3L281.8 252.4M320.3 255.6A65.2 65.2 0 0 0 324.2 233.3M259.1 233.3L320.3 255.6"/>
</g>
<circle cx="259.1" cy="233.3" r="1.1" fill="#111"/>
<circle cx="259.1" cy="233.3" r="73" fill="none" stroke="#1a1a1a" stroke-width="0.9"/>
<text class="t" x="259.2" y="159.7">90</text>
<text class="t" x="259.9" y="316.6">270</text>
<text class="t" transform="translate(341.1 234.3) rotate(-90)">0</text>
<text class="t" transform="translate(184.2 234.1) rotate(-90)">180</text>
<text class="g" x="302.8" y="194.4">60</text>
<text class="n" x="194.7" y="168.8">ii.</text>
<clipPath id="c02"><circle cx="429.4" cy="232.7" r="73"/></clipPath>
<g fill="none" stroke="#ebebeb" stroke-width="0.6" stroke-dasharray="1 0.8"><circle cx="429.4" cy="232.7" r="18.5"/><circle cx="429.4" cy="232.7" r="37"/><circle cx="429.4" cy="232.7" r="55.6"/><path d="M356.4 232.7L502.4 232.7"/><path d="M366.2 269.1L492.6 196.2"/><path d="M392.9 295.9L465.9 169.4"/><path d="M429.4 305.6L429.4 159.7"/><path d="M465.9 295.9L392.9 169.4"/><path d="M492.6 269.1L366.2 196.2"/></g>
<g clip-path="url(#c02)">
<path fill="#A9E6E6" d="M429.4 232.7L469.8 232.7A40.4 40.4 0 0 0 467.4 218.8ZM429.4 232.7L453.4 223.9A25.5 25.5 0 0 0 448.9 216.3ZM429.4 232.7L438.6 224.9A12 12 0 0 0 435.4 222.3ZM429.4 232.7L435.9 221.4A13 13 0 0 0 431.7 219.8ZM429.4 232.7L432.2 216.5A16.4 16.4 0 0 0 426.6 216.5ZM429.4 232.7L427.5 221.8A11 11 0 0 0 423.9 223.1ZM429.4 232.7L411.6 201.9A35.5 35.5 0 0 0 402.2 209.8ZM429.4 232.7L392.4 201.6A48.3 48.3 0 0 0 384 216.1ZM429.4 232.7L367.9 210.3A65.4 65.4 0 0 0 364 232.7ZM429.4 232.7L389 232.7A40.4 40.4 0 0 0 391.4 246.5ZM429.4 232.7L405.4 241.4A25.5 25.5 0 0 0 409.9 249ZM429.4 232.7L420.2 240.4A12 12 0 0 0 423.4 243ZM429.4 232.7L422.9 243.9A13 13 0 0 0 427.1 245.5ZM429.4 232.7L426.6 248.8A16.4 16.4 0 0 0 432.2 248.8ZM429.4 232.7L431.3 243.5A11 11 0 0 0 434.9 242.2ZM429.4 232.7L447.1 263.4A35.5 35.5 0 0 0 456.6 255.5ZM429.4 232.7L466.4 263.7A48.3 48.3 0 0 0 474.8 249.2ZM429.4 232.7L490.9 255A65.4 65.4 0 0 0 494.8 232.7Z"/>
<path fill="#E8E07C" d="M429.4 232.7L493.6 232.7A64.2 64.2 0 0 0 489.7 210.7ZM429.4 232.7L463.9 220.1A36.7 36.7 0 0 0 457.5 209.1ZM429.4 232.7L442.7 221.5A17.3 17.3 0 0 0 438 217.7ZM429.4 232.7L431.9 228.3A5 5 0 0 0 430.3 227.7ZM429.4 232.7L430.4 226.7A6 6 0 0 0 428.4 226.7ZM429.4 232.7L428.5 227.7A5 5 0 0 0 426.9 228.3ZM429.4 232.7L422.4 220.5A14 14 0 0 0 418.7 223.7ZM429.4 232.7L410.2 216.6A25 25 0 0 0 405.9 224.1ZM429.4 232.7L384.4 216.3A47.9 47.9 0 0 0 381.5 232.7ZM429.4 232.7L365.2 232.7A64.2 64.2 0 0 0 369.1 254.6ZM429.4 232.7L394.9 245.2A36.7 36.7 0 0 0 401.3 256.2ZM429.4 232.7L416.1 243.8A17.3 17.3 0 0 0 420.7 247.6ZM429.4 232.7L426.9 237A5 5 0 0 0 428.5 237.6ZM429.4 232.7L428.4 238.6A6 6 0 0 0 430.4 238.6ZM429.4 232.7L430.3 237.6A5 5 0 0 0 431.9 237ZM429.4 232.7L436.4 244.8A14 14 0 0 0 440.1 241.6ZM429.4 232.7L448.6 248.7A25 25 0 0 0 452.9 241.2ZM429.4 232.7L474.4 249A47.9 47.9 0 0 0 477.3 232.7Z"/>
<path fill="#8EE0A8" d="M429.4 232.7L469.8 232.7A40.4 40.4 0 0 0 467.4 218.8ZM429.4 232.7L453.4 223.9A25.5 25.5 0 0 0 448.9 216.3ZM429.4 232.7L438.6 224.9A12 12 0 0 0 435.4 222.3ZM429.4 232.7L431.9 228.3A5 5 0 0 0 430.3 227.7ZM429.4 232.7L430.4 226.7A6 6 0 0 0 428.4 226.7ZM429.4 232.7L428.5 227.7A5 5 0 0 0 426.9 228.3ZM429.4 232.7L422.4 220.5A14 14 0 0 0 418.7 223.7ZM429.4 232.7L410.2 216.6A25 25 0 0 0 405.9 224.1ZM429.4 232.7L384.4 216.3A47.9 47.9 0 0 0 381.5 232.7ZM429.4 232.7L389 232.7A40.4 40.4 0 0 0 391.4 246.5ZM429.4 232.7L405.4 241.4A25.5 25.5 0 0 0 409.9 249ZM429.4 232.7L420.2 240.4A12 12 0 0 0 423.4 243ZM429.4 232.7L426.9 237A5 5 0 0 0 428.5 237.6ZM429.4 232.7L428.4 238.6A6 6 0 0 0 430.4 238.6ZM429.4 232.7L430.3 237.6A5 5 0 0 0 431.9 237ZM429.4 232.7L436.4 244.8A14 14 0 0 0 440.1 241.6ZM429.4 232.7L448.6 248.7A25 25 0 0 0 452.9 241.2ZM429.4 232.7L474.4 249A47.9 47.9 0 0 0 477.3 232.7Z"/>
<path fill="none" stroke="#1f2a2a" stroke-opacity="0.8" stroke-width="0.42" stroke-linejoin="round" d="M469.8 232.7A40.4 40.4 0 0 0 467.4 218.8M493.6 232.7A64.2 64.2 0 0 0 489.7 210.7M429.4 232.7L494.8 232.7M453.4 223.9A25.5 25.5 0 0 0 448.9 216.3M463.9 220.1A36.7 36.7 0 0 0 457.5 209.1M429.4 232.7L489.7 210.7M438.6 224.9A12 12 0 0 0 435.4 222.3M442.7 221.5A17.3 17.3 0 0 0 438 217.7M429.4 232.7L457.5 209.1M435.9 221.4A13 13 0 0 0 431.7 219.8M431.9 228.3A5 5 0 0 0 430.3 227.7M429.4 232.7L438 217.7M432.2 216.5A16.4 16.4 0 0 0 426.6 216.5M430.4 226.7A6 6 0 0 0 428.4 226.7M429.4 232.7L432.2 216.5M427.5 221.8A11 11 0 0 0 423.9 223.1M428.5 227.7A5 5 0 0 0 426.9 228.3M429.4 232.7L426.6 216.5M411.6 201.9A35.5 35.5 0 0 0 402.2 209.8M422.4 220.5A14 14 0 0 0 418.7 223.7M429.4 232.7L411.6 201.9M392.4 201.6A48.3 48.3 0 0 0 384 216.1M410.2 216.6A25 25 0 0 0 405.9 224.1M429.4 232.7L392.4 201.6M367.9 210.3A65.4 65.4 0 0 0 364 232.7M384.4 216.3A47.9 47.9 0 0 0 381.5 232.7M429.4 232.7L367.9 210.3M389 232.7A40.4 40.4 0 0 0 391.4 246.5M365.2 232.7A64.2 64.2 0 0 0 369.1 254.6M429.4 232.7L364 232.7M405.4 241.4A25.5 25.5 0 0 0 409.9 249M394.9 245.2A36.7 36.7 0 0 0 401.3 256.2M429.4 232.7L369.1 254.6M420.2 240.4A12 12 0 0 0 423.4 243M416.1 243.8A17.3 17.3 0 0 0 420.7 247.6M429.4 232.7L401.3 256.2M422.9 243.9A13 13 0 0 0 427.1 245.5M426.9 237A5 5 0 0 0 428.5 237.6M429.4 232.7L420.7 247.6M426.6 248.8A16.4 16.4 0 0 0 432.2 248.8M428.4 238.6A6 6 0 0 0 430.4 238.6M429.4 232.7L426.6 248.8M431.3 243.5A11 11 0 0 0 434.9 242.2M430.3 237.6A5 5 0 0 0 431.9 237M429.4 232.7L432.2 248.8M447.1 263.4A35.5 35.5 0 0 0 456.6 255.5M436.4 244.8A14 14 0 0 0 440.1 241.6M429.4 232.7L447.1 263.4M466.4 263.7A48.3 48.3 0 0 0 474.8 249.2M448.6 248.7A25 25 0 0 0 452.9 241.2M429.4 232.7L466.4 263.7M490.9 255A65.4 65.4 0 0 0 494.8 232.7M474.4 249A47.9 47.9 0 0 0 477.3 232.7M429.4 232.7L490.9 255"/>
</g>
<circle cx="429.4" cy="232.7" r="1.1" fill="#111"/>
<circle cx="429.4" cy="232.7" r="73" fill="none" stroke="#1a1a1a" stroke-width="0.9"/>
<text class="t" x="429.6" y="159.1">90</text>
<text class="t" x="430.2" y="315.9">270</text>
<text class="t" transform="translate(511.4 233.7) rotate(-90)">0</text>
<text class="t" transform="translate(354.5 233.5) rotate(-90)">180</text>
<text class="g" x="467.3" y="198">60</text>
<text class="n" x="363.3" y="169.7">iii.</text>
<clipPath id="c03"><circle cx="600" cy="232.7" r="73"/></clipPath>
<g fill="none" stroke="#ebebeb" stroke-width="0.6" stroke-dasharray="1 0.8"><circle cx="600" cy="232.7" r="32.8"/><circle cx="600" cy="232.7" r="65.6"/><path d="M527 232.7L673 232.7"/><path d="M536.7 269.1L663.2 196.2"/><path d="M563.5 295.9L636.5 169.4"/><path d="M600 305.6L600 159.7"/><path d="M636.5 295.9L563.5 169.4"/><path d="M663.2 269.1L536.7 196.2"/></g>
<g clip-path="url(#c03)">
<path fill="#A9E6E6" d="M600 232.7L643.9 232.7A43.9 43.9 0 0 0 641.2 217.6ZM600 232.7L618.3 226A19.5 19.5 0 0 0 614.9 220.1ZM600 232.7L614.7 220.2A19.3 19.3 0 0 0 609.6 215.9ZM600 232.7L610.5 214.5A21 21 0 0 0 603.6 212ZM600 232.7L603.8 210.6A22.4 22.4 0 0 0 596.1 210.6ZM600 232.7L591.2 183A50.4 50.4 0 0 0 574.8 189ZM600 232.7L582.2 201.9A35.5 35.5 0 0 0 572.8 209.8ZM600 232.7L566 204.2A44.3 44.3 0 0 0 558.3 217.5ZM600 232.7L558.7 217.6A43.9 43.9 0 0 0 556.1 232.7ZM600 232.7L556.1 232.7A43.9 43.9 0 0 0 558.7 247.7ZM600 232.7L581.6 239.3A19.5 19.5 0 0 0 585 245.2ZM600 232.7L585.2 245.1A19.3 19.3 0 0 0 590.3 249.4ZM600 232.7L589.5 250.8A21 21 0 0 0 596.3 253.3ZM600 232.7L596.1 254.7A22.4 22.4 0 0 0 603.8 254.7ZM600 232.7L608.7 282.3A50.4 50.4 0 0 0 625.2 276.3ZM600 232.7L617.7 263.4A35.5 35.5 0 0 0 627.1 255.5ZM600 232.7L633.9 261.1A44.3 44.3 0 0 0 641.6 247.8ZM600 232.7L641.2 247.7A43.9 43.9 0 0 0 643.9 232.7Z"/>
<path fill="#E8E07C" d="M600 232.7L648.8 232.7A48.8 48.8 0 0 0 645.8 216ZM600 232.7L634.7 220A37 37 0 0 0 628.3 208.9ZM600 232.7L634.9 203.3A45.6 45.6 0 0 0 622.8 193.2ZM600 232.7L609.6 216A19.2 19.2 0 0 0 603.3 213.7ZM600 232.7L603.3 213.4A19.5 19.5 0 0 0 596.6 213.4ZM600 232.7L595 204.4A28.7 28.7 0 0 0 585.6 207.8ZM600 232.7L583.6 204.3A32.7 32.7 0 0 0 574.9 211.6ZM600 232.7L546.9 188.2A69.2 69.2 0 0 0 534.9 209ZM600 232.7L544.7 212.5A58.8 58.8 0 0 0 541.2 232.7ZM600 232.7L551.2 232.7A48.8 48.8 0 0 0 554.1 249.3ZM600 232.7L565.2 245.3A37 37 0 0 0 571.6 256.4ZM600 232.7L565 262A45.6 45.6 0 0 0 577.1 272.1ZM600 232.7L590.4 249.3A19.2 19.2 0 0 0 596.6 251.6ZM600 232.7L596.6 251.9A19.5 19.5 0 0 0 603.3 251.9ZM600 232.7L604.9 260.9A28.7 28.7 0 0 0 614.3 257.5ZM600 232.7L616.3 261A32.7 32.7 0 0 0 625 253.7ZM600 232.7L653 277.1A69.2 69.2 0 0 0 665 256.3ZM600 232.7L655.2 252.8A58.8 58.8 0 0 0 658.8 232.7Z"/>
<path fill="#8EE0A8" d="M600 232.7L643.9 232.7A43.9 43.9 0 0 0 641.2 217.6ZM600 232.7L618.3 226A19.5 19.5 0 0 0 614.9 220.1ZM600 232.7L614.7 220.2A19.3 19.3 0 0 0 609.6 215.9ZM600 232.7L609.6 216A19.2 19.2 0 0 0 603.3 213.7ZM600 232.7L603.3 213.4A19.5 19.5 0 0 0 596.6 213.4ZM600 232.7L595 204.4A28.7 28.7 0 0 0 585.6 207.8ZM600 232.7L583.6 204.3A32.7 32.7 0 0 0 574.9 211.6ZM600 232.7L566 204.2A44.3 44.3 0 0 0 558.3 217.5ZM600 232.7L558.7 217.6A43.9 43.9 0 0 0 556.1 232.7ZM600 232.7L556.1 232.7A43.9 43.9 0 0 0 558.7 247.7ZM600 232.7L581.6 239.3A19.5 19.5 0 0 0 585 245.2ZM600 232.7L585.2 245.1A19.3 19.3 0 0 0 590.3 249.4ZM600 232.7L590.4 249.3A19.2 19.2 0 0 0 596.6 251.6ZM600 232.7L596.6 251.9A19.5 19.5 0 0 0 603.3 251.9ZM600 232.7L604.9 260.9A28.7 28.7 0 0 0 614.3 257.5ZM600 232.7L616.3 261A32.7 32.7 0 0 0 625 253.7ZM600 232.7L633.9 261.1A44.3 44.3 0 0 0 641.6 247.8ZM600 232.7L641.2 247.7A43.9 43.9 0 0 0 643.9 232.7Z"/>
<path fill="none" stroke="#1f2a2a" stroke-opacity="0.8" stroke-width="0.42" stroke-linejoin="round" d="M643.9 232.7A43.9 43.9 0 0 0 641.2 217.6M648.8 232.7A48.8 48.8 0 0 0 645.8 216M600 232.7L658.8 232.7M618.3 226A19.5 19.5 0 0 0 614.9 220.1M634.7 220A37 37 0 0 0 628.3 208.9M600 232.7L645.8 216M614.7 220.2A19.3 19.3 0 0 0 609.6 215.9M634.9 203.3A45.6 45.6 0 0 0 622.8 193.2M600 232.7L634.9 203.3M610.5 214.5A21 21 0 0 0 603.6 212M609.6 216A19.2 19.2 0 0 0 603.3 213.7M600 232.7L622.8 193.2M603.8 210.6A22.4 22.4 0 0 0 596.1 210.6M603.3 213.4A19.5 19.5 0 0 0 596.6 213.4M600 232.7L603.8 210.6M591.2 183A50.4 50.4 0 0 0 574.8 189M595 204.4A28.7 28.7 0 0 0 585.6 207.8M600 232.7L591.2 183M582.2 201.9A35.5 35.5 0 0 0 572.8 209.8M583.6 204.3A32.7 32.7 0 0 0 574.9 211.6M600 232.7L574.8 189M566 204.2A44.3 44.3 0 0 0 558.3 217.5M546.9 188.2A69.2 69.2 0 0 0 534.9 209M600 232.7L546.9 188.2M558.7 217.6A43.9 43.9 0 0 0 556.1 232.7M544.7 212.5A58.8 58.8 0 0 0 541.2 232.7M600 232.7L534.9 209M556.1 232.7A43.9 43.9 0 0 0 558.7 247.7M551.2 232.7A48.8 48.8 0 0 0 554.1 249.3M600 232.7L541.2 232.7M581.6 239.3A19.5 19.5 0 0 0 585 245.2M565.2 245.3A37 37 0 0 0 571.6 256.4M600 232.7L554.1 249.3M585.2 245.1A19.3 19.3 0 0 0 590.3 249.4M565 262A45.6 45.6 0 0 0 577.1 272.1M600 232.7L565 262M589.5 250.8A21 21 0 0 0 596.3 253.3M590.4 249.3A19.2 19.2 0 0 0 596.6 251.6M600 232.7L577.1 272.1M596.1 254.7A22.4 22.4 0 0 0 603.8 254.7M596.6 251.9A19.5 19.5 0 0 0 603.3 251.9M600 232.7L596.1 254.7M608.7 282.3A50.4 50.4 0 0 0 625.2 276.3M604.9 260.9A28.7 28.7 0 0 0 614.3 257.5M600 232.7L608.7 282.3M617.7 263.4A35.5 35.5 0 0 0 627.1 255.5M616.3 261A32.7 32.7 0 0 0 625 253.7M600 232.7L625.2 276.3M633.9 261.1A44.3 44.3 0 0 0 641.6 247.8M653 277.1A69.2 69.2 0 0 0 665 256.3M600 232.7L653 277.1M641.2 247.7A43.9 43.9 0 0 0 643.9 232.7M655.2 252.8A58.8 58.8 0 0 0 658.8 232.7M600 232.7L665 256.3"/>
</g>
<circle cx="600" cy="232.7" r="1.1" fill="#111"/>
<circle cx="600" cy="232.7" r="73" fill="none" stroke="#1a1a1a" stroke-width="0.9"/>
<text class="t" x="600.2" y="159.1">90</text>
<text class="t" x="600.8" y="315.9">270</text>
<text class="t" transform="translate(682 233.7) rotate(-90)">0</text>
<text class="t" transform="translate(525.1 233.5) rotate(-90)">180</text>
<text class="g" x="645" y="190.9">40</text>
<text class="n" x="533.8" y="168.9">iv.</text>
<clipPath id="c10"><circle cx="87.6" cy="495.8" r="73"/></clipPath>
<g fill="none" stroke="#ebebeb" stroke-width="0.6" stroke-dasharray="1 0.8"><circle cx="87.6" cy="495.8" r="25.3"/><circle cx="87.6" cy="495.8" r="50.6"/><path d="M14.6 495.8L160.6 495.8"/><path d="M24.4 532.3L150.8 459.3"/><path d="M51.1 559L124.1 432.6"/><path d="M87.6 568.8L87.6 422.8"/><path d="M124.1 559L51.1 432.6"/><path d="M150.8 532.3L24.4 459.3"/></g>
<g clip-path="url(#c10)">
<path fill="#A9E6E6" d="M87.6 495.8L108.1 495.8A20.5 20.5 0 0 0 106.9 488.8ZM87.6 495.8L107.1 488.7A20.7 20.7 0 0 0 103.5 482.5ZM87.6 495.8L101.9 483.8A18.7 18.7 0 0 0 96.9 479.6ZM87.6 495.8L95.9 481.4A16.6 16.6 0 0 0 90.5 479.5ZM87.6 495.8L92.6 467.2A29 29 0 0 0 82.6 467.2ZM87.6 495.8L84.1 476.1A20 20 0 0 0 77.6 478.5ZM87.6 495.8L66.9 459.9A41.5 41.5 0 0 0 55.8 469.1ZM87.6 495.8L38.8 454.9A63.7 63.7 0 0 0 27.7 474ZM87.6 495.8L39.8 478.4A50.9 50.9 0 0 0 36.7 495.8ZM87.6 495.8L67.1 495.8A20.5 20.5 0 0 0 68.3 502.8ZM87.6 495.8L68.1 502.9A20.7 20.7 0 0 0 71.7 509.1ZM87.6 495.8L73.3 507.8A18.7 18.7 0 0 0 78.2 512ZM87.6 495.8L79.3 510.2A16.6 16.6 0 0 0 84.7 512.1ZM87.6 495.8L82.6 524.4A29 29 0 0 0 92.6 524.4ZM87.6 495.8L91.1 515.5A20 20 0 0 0 97.6 513.1ZM87.6 495.8L108.3 531.7A41.5 41.5 0 0 0 119.4 522.5ZM87.6 495.8L136.4 536.7A63.7 63.7 0 0 0 147.5 517.6ZM87.6 495.8L135.4 513.2A50.9 50.9 0 0 0 138.5 495.8Z"/>
<path fill="#E8E07C" d="M87.6 495.8L106.5 495.8A18.9 18.9 0 0 0 105.4 489.3ZM87.6 495.8L102.1 490.5A15.4 15.4 0 0 0 99.4 485.9ZM87.6 495.8L98 487.1A13.6 13.6 0 0 0 94.4 484ZM87.6 495.8L94.9 483.1A14.7 14.7 0 0 0 90.2 481.3ZM87.6 495.8L90.2 480.8A15.2 15.2 0 0 0 85 480.8ZM87.6 495.8L83.5 472.7A23.5 23.5 0 0 0 75.8 475.4ZM87.6 495.8L72.5 469.6A30.3 30.3 0 0 0 64.4 476.3ZM87.6 495.8L53.9 467.5A44 44 0 0 0 46.3 480.8ZM87.6 495.8L62.3 486.6A26.9 26.9 0 0 0 60.7 495.8ZM87.6 495.8L68.7 495.8A18.9 18.9 0 0 0 69.8 502.3ZM87.6 495.8L73.1 501.1A15.4 15.4 0 0 0 75.8 505.7ZM87.6 495.8L77.2 504.5A13.6 13.6 0 0 0 80.8 507.6ZM87.6 495.8L80.2 508.5A14.7 14.7 0 0 0 85 510.3ZM87.6 495.8L85 510.8A15.2 15.2 0 0 0 90.2 510.8ZM87.6 495.8L91.7 518.9A23.5 23.5 0 0 0 99.3 516.2ZM87.6 495.8L102.8 522A30.3 30.3 0 0 0 110.8 515.3ZM87.6 495.8L121.3 524.1A44 44 0 0 0 128.9 510.8ZM87.6 495.8L112.9 505A26.9 26.9 0 0 0 114.5 495.8Z"/>
<path fill="#8EE0A8" d="M87.6 495.8L106.5 495.8A18.9 18.9 0 0 0 105.4 489.3ZM87.6 495.8L102.1 490.5A15.4 15.4 0 0 0 99.4 485.9ZM87.6 495.8L98 487.1A13.6 13.6 0 0 0 94.4 484ZM87.6 495.8L94.9 483.1A14.7 14.7 0 0 0 90.2 481.3ZM87.6 495.8L90.2 480.8A15.2 15.2 0 0 0 85 480.8ZM87.6 495.8L84.1 476.1A20 20 0 0 0 77.6 478.5ZM87.6 495.8L72.5 469.6A30.3 30.3 0 0 0 64.4 476.3ZM87.6 495.8L53.9 467.5A44 44 0 0 0 46.3 480.8ZM87.6 495.8L62.3 486.6A26.9 26.9 0 0 0 60.7 495.8ZM87.6 495.8L68.7 495.8A18.9 18.9 0 0 0 69.8 502.3ZM87.6 495.8L73.1 501.1A15.4 15.4 0 0 0 75.8 505.7ZM87.6 495.8L77.2 504.5A13.6 13.6 0 0 0 80.8 507.6ZM87.6 495.8L80.2 508.5A14.7 14.7 0 0 0 85 510.3ZM87.6 495.8L85 510.8A15.2 15.2 0 0 0 90.2 510.8ZM87.6 495.8L91.1 515.5A20 20 0 0 0 97.6 513.1ZM87.6 495.8L102.8 522A30.3 30.3 0 0 0 110.8 515.3ZM87.6 495.8L121.3 524.1A44 44 0 0 0 128.9 510.8ZM87.6 495.8L112.9 505A26.9 26.9 0 0 0 114.5 495.8Z"/>
<path fill="none" stroke="#1f2a2a" stroke-opacity="0.8" stroke-width="0.42" stroke-linejoin="round" d="M108.1 495.8A20.5 20.5 0 0 0 106.9 488.8M106.5 495.8A18.9 18.9 0 0 0 105.4 489.3M87.6 495.8L138.5 495.8M107.1 488.7A20.7 20.7 0 0 0 103.5 482.5M102.1 490.5A15.4 15.4 0 0 0 99.4 485.9M87.6 495.8L107.1 488.7M101.9 483.8A18.7 18.7 0 0 0 96.9 479.6M98 487.1A13.6 13.6 0 0 0 94.4 484M87.6 495.8L103.5 482.5M95.9 481.4A16.6 16.6 0 0 0 90.5 479.5M94.9 483.1A14.7 14.7 0 0 0 90.2 481.3M87.6 495.8L96.9 479.6M92.6 467.2A29 29 0 0 0 82.6 467.2M90.2 480.8A15.2 15.2 0 0 0 85 480.8M87.6 495.8L92.6 467.2M84.1 476.1A20 20 0 0 0 77.6 478.5M83.5 472.7A23.5 23.5 0 0 0 75.8 475.4M87.6 495.8L82.6 467.2M66.9 459.9A41.5 41.5 0 0 0 55.8 469.1M72.5 469.6A30.3 30.3 0 0 0 64.4 476.3M87.6 495.8L66.9 459.9M38.8 454.9A63.7 63.7 0 0 0 27.7 474M53.9 467.5A44 44 0 0 0 46.3 480.8M87.6 495.8L38.8 454.9M39.8 478.4A50.9 50.9 0 0 0 36.7 495.8M62.3 486.6A26.9 26.9 0 0 0 60.7 495.8M87.6 495.8L27.7 474M67.1 495.8A20.5 20.5 0 0 0 68.3 502.8M68.7 495.8A18.9 18.9 0 0 0 69.8 502.3M87.6 495.8L36.7 495.8M68.1 502.9A20.7 20.7 0 0 0 71.7 509.1M73.1 501.1A15.4 15.4 0 0 0 75.8 505.7M87.6 495.8L68.1 502.9M73.3 507.8A18.7 18.7 0 0 0 78.2 512M77.2 504.5A13.6 13.6 0 0 0 80.8 507.6M87.6 495.8L71.7 509.1M79.3 510.2A16.6 16.6 0 0 0 84.7 512.1M80.2 508.5A14.7 14.7 0 0 0 85 510.3M87.6 495.8L78.2 512M82.6 524.4A29 29 0 0 0 92.6 524.4M85 510.8A15.2 15.2 0 0 0 90.2 510.8M87.6 495.8L82.6 524.4M91.1 515.5A20 20 0 0 0 97.6 513.1M91.7 518.9A23.5 23.5 0 0 0 99.3 516.2M87.6 495.8L92.6 524.4M108.3 531.7A41.5 41.5 0 0 0 119.4 522.5M102.8 522A30.3 30.3 0 0 0 110.8 515.3M87.6 495.8L108.3 531.7M136.4 536.7A63.7 63.7 0 0 0 147.5 517.6M121.3 524.1A44 44 0 0 0 128.9 510.8M87.6 495.8L136.4 536.7M135.4 513.2A50.9 50.9 0 0 0 138.5 495.8M112.9 505A26.9 26.9 0 0 0 114.5 495.8M87.6 495.8L147.5 517.6"/>
</g>
<circle cx="87.6" cy="495.8" r="1.1" fill="#111"/>
<circle cx="87.6" cy="495.8" r="73" fill="none" stroke="#1a1a1a" stroke-width="0.9"/>
<text class="t" x="87.8" y="421.6">90</text>
<text class="t" x="88.4" y="579.1">270</text>
<text class="t" transform="translate(170.6 496.8) rotate(-90)">0</text>
<text class="t" transform="translate(12.7 496.6) rotate(-90)">180</text>
<text class="g" x="121.8" y="464.5">40</text>
<text class="n" x="26.9" y="431.9">i.</text>
<clipPath id="c11"><circle cx="258.2" cy="495.8" r="73"/></clipPath>
<g fill="none" stroke="#ebebeb" stroke-width="0.6" stroke-dasharray="1 0.8"><circle cx="258.2" cy="495.8" r="18.7"/><circle cx="258.2" cy="495.8" r="37.5"/><circle cx="258.2" cy="495.8" r="56.2"/><path d="M185.2 495.8L331.2 495.8"/><path d="M195 532.3L321.4 459.3"/><path d="M221.7 559L294.7 432.6"/><path d="M258.2 568.8L258.2 422.8"/><path d="M294.7 559L221.7 432.6"/><path d="M321.4 532.3L195 459.3"/></g>
<g clip-path="url(#c11)">
<path fill="#A9E6E6" d="M258.2 495.8L292.9 495.8A34.7 34.7 0 0 0 290.8 483.9ZM258.2 495.8L274 490.1A16.8 16.8 0 0 0 271.1 485ZM258.2 495.8L278 479.2A25.8 25.8 0 0 0 271.1 473.5ZM258.2 495.8L270.9 473.7A25.5 25.5 0 0 0 262.6 470.7ZM258.2 495.8L265.2 456.1A40.3 40.3 0 0 0 251.2 456.1ZM258.2 495.8L247 432.4A64.4 64.4 0 0 0 226 440ZM258.2 495.8L223.4 435.6A69.5 69.5 0 0 0 205 451.1ZM258.2 495.8L211.9 456.9A60.5 60.5 0 0 0 201.3 475.1ZM258.2 495.8L204.6 476.3A57 57 0 0 0 201.2 495.8ZM258.2 495.8L223.5 495.8A34.7 34.7 0 0 0 225.6 507.7ZM258.2 495.8L242.4 501.5A16.8 16.8 0 0 0 245.3 506.6ZM258.2 495.8L238.4 512.4A25.8 25.8 0 0 0 245.3 518.1ZM258.2 495.8L245.4 517.9A25.5 25.5 0 0 0 253.8 520.9ZM258.2 495.8L251.2 535.5A40.3 40.3 0 0 0 265.2 535.5ZM258.2 495.8L269.4 559.2A64.4 64.4 0 0 0 290.4 551.6ZM258.2 495.8L292.9 556A69.5 69.5 0 0 0 311.4 540.5ZM258.2 495.8L304.5 534.7A60.5 60.5 0 0 0 315.1 516.5ZM258.2 495.8L311.8 515.3A57 57 0 0 0 315.2 495.8Z"/>
<path fill="none" stroke="#1f2a2a" stroke-opacity="0.8" stroke-width="0.42" stroke-linejoin="round" d="M292.9 495.8A34.7 34.7 0 0 0 290.8 483.9M258.2 495.8L315.2 495.8M274 490.1A16.8 16.8 0 0 0 271.1 485M258.2 495.8L290.8 483.9M278 479.2A25.8 25.8 0 0 0 271.1 473.5M258.2 495.8L278 479.2M270.9 473.7A25.5 25.5 0 0 0 262.6 470.7M258.2 495.8L271.1 473.5M265.2 456.1A40.3 40.3 0 0 0 251.2 456.1M258.2 495.8L265.2 456.1M247 432.4A64.4 64.4 0 0 0 226 440M258.2 495.8L247 432.4M223.4 435.6A69.5 69.5 0 0 0 205 451.1M258.2 495.8L223.4 435.6M211.9 456.9A60.5 60.5 0 0 0 201.3 475.1M258.2 495.8L205 451.1M204.6 476.3A57 57 0 0 0 201.2 495.8M258.2 495.8L201.3 475.1M223.5 495.8A34.7 34.7 0 0 0 225.6 507.7M258.2 495.8L201.2 495.8M242.4 501.5A16.8 16.8 0 0 0 245.3 506.6M258.2 495.8L225.6 507.7M238.4 512.4A25.8 25.8 0 0 0 245.3 518.1M258.2 495.8L238.4 512.4M245.4 517.9A25.5 25.5 0 0 0 253.8 520.9M258.2 495.8L245.3 518.1M251.2 535.5A40.3 40.3 0 0 0 265.2 535.5M258.2 495.8L251.2 535.5M269.4 559.2A64.4 64.4 0 0 0 290.4 551.6M258.2 495.8L269.4 559.2M292.9 556A69.5 69.5 0 0 0 311.4 540.5M258.2 495.8L292.9 556M304.5 534.7A60.5 60.5 0 0 0 315.1 516.5M258.2 495.8L311.4 540.5M311.8 515.3A57 57 0 0 0 315.2 495.8M258.2 495.8L315.1 516.5"/>
</g>
<circle cx="258.2" cy="495.8" r="1.1" fill="#111"/>
<circle cx="258.2" cy="495.8" r="73" fill="none" stroke="#1a1a1a" stroke-width="0.9"/>
<text class="t" x="258.4" y="421.6">90</text>
<text class="t" x="259" y="579.1">270</text>
<text class="t" transform="translate(341.2 496.8) rotate(-90)">0</text>
<text class="t" transform="translate(183.3 496.6) rotate(-90)">180</text>
<text class="g" x="295.1" y="459.3">30</text>
<text class="n" x="195.2" y="431.9">ii.</text>
<clipPath id="c12"><circle cx="428.8" cy="495.8" r="73"/></clipPath>
<g fill="none" stroke="#ebebeb" stroke-width="0.6" stroke-dasharray="1 0.8"><circle cx="428.8" cy="495.8" r="18.4"/><circle cx="428.8" cy="495.8" r="36.7"/><circle cx="428.8" cy="495.8" r="55.1"/><path d="M355.8 495.8L501.8 495.8"/><path d="M365.5 532.3L492 459.3"/><path d="M392.2 559L465.2 432.6"/><path d="M428.8 568.8L428.8 422.8"/><path d="M465.2 559L392.2 432.6"/><path d="M492 532.3L365.5 459.3"/></g>
<g clip-path="url(#c12)">
<path fill="#A9E6E6" d="M428.8 495.8L452.9 495.8A24.1 24.1 0 0 0 451.4 487.6ZM428.8 495.8L462.4 483.6A35.8 35.8 0 0 0 456.2 472.8ZM428.8 495.8L465.1 465.3A47.5 47.5 0 0 0 452.5 454.7ZM428.8 495.8L466.8 430A76 76 0 0 0 441.9 421ZM428.8 495.8L440.3 430A66.8 66.8 0 0 0 417.2 430ZM428.8 495.8L420.5 449.1A47.4 47.4 0 0 0 405.1 454.8ZM428.8 495.8L420.2 481.1A17 17 0 0 0 415.7 484.9ZM428.8 495.8L412.5 482.2A21.2 21.2 0 0 0 408.8 488.5ZM428.8 495.8L415 490.8A14.6 14.6 0 0 0 414.1 495.8ZM428.8 495.8L404.6 495.8A24.1 24.1 0 0 0 406.1 504ZM428.8 495.8L395.1 508A35.8 35.8 0 0 0 401.3 518.8ZM428.8 495.8L392.4 526.3A47.5 47.5 0 0 0 405 536.9ZM428.8 495.8L390.7 561.6A76 76 0 0 0 415.6 570.6ZM428.8 495.8L417.2 561.6A66.8 66.8 0 0 0 440.3 561.6ZM428.8 495.8L437 542.5A47.4 47.4 0 0 0 452.4 536.8ZM428.8 495.8L437.2 510.5A17 17 0 0 0 441.8 506.7ZM428.8 495.8L445 509.4A21.2 21.2 0 0 0 448.7 503.1ZM428.8 495.8L442.5 500.8A14.6 14.6 0 0 0 443.4 495.8Z"/>
<path fill="none" stroke="#1f2a2a" stroke-opacity="0.8" stroke-width="0.42" stroke-linejoin="round" d="M452.9 495.8A24.1 24.1 0 0 0 451.4 487.6M428.8 495.8L452.9 495.8M462.4 483.6A35.8 35.8 0 0 0 456.2 472.8M428.8 495.8L462.4 483.6M465.1 465.3A47.5 47.5 0 0 0 452.5 454.7M428.8 495.8L465.1 465.3M466.8 430A76 76 0 0 0 441.9 421M428.8 495.8L466.8 430M440.3 430A66.8 66.8 0 0 0 417.2 430M428.8 495.8L441.9 421M420.5 449.1A47.4 47.4 0 0 0 405.1 454.8M428.8 495.8L417.2 430M420.2 481.1A17 17 0 0 0 415.7 484.9M428.8 495.8L405.1 454.8M412.5 482.2A21.2 21.2 0 0 0 408.8 488.5M428.8 495.8L412.5 482.2M415 490.8A14.6 14.6 0 0 0 414.1 495.8M428.8 495.8L408.8 488.5M404.6 495.8A24.1 24.1 0 0 0 406.1 504M428.8 495.8L404.6 495.8M395.1 508A35.8 35.8 0 0 0 401.3 518.8M428.8 495.8L395.1 508M392.4 526.3A47.5 47.5 0 0 0 405 536.9M428.8 495.8L392.4 526.3M390.7 561.6A76 76 0 0 0 415.6 570.6M428.8 495.8L390.7 561.6M417.2 561.6A66.8 66.8 0 0 0 440.3 561.6M428.8 495.8L415.6 570.6M437 542.5A47.4 47.4 0 0 0 452.4 536.8M428.8 495.8L440.3 561.6M437.2 510.5A17 17 0 0 0 441.8 506.7M428.8 495.8L452.4 536.8M445 509.4A21.2 21.2 0 0 0 448.7 503.1M428.8 495.8L445 509.4M442.5 500.8A14.6 14.6 0 0 0 443.4 495.8M428.8 495.8L448.7 503.1"/>
</g>
<circle cx="428.8" cy="495.8" r="1.1" fill="#111"/>
<circle cx="428.8" cy="495.8" r="73" fill="none" stroke="#1a1a1a" stroke-width="0.9"/>
<text class="t" x="428.9" y="421.6">90</text>
<text class="t" x="429.6" y="579.1">270</text>
<text class="t" transform="translate(511.8 496.8) rotate(-90)">0</text>
<text class="t" transform="translate(353.9 496.6) rotate(-90)">180</text>
<text class="g" x="480.4" y="485.5">60</text>
<text class="n" x="363.9" y="432.8">iii.</text>
<clipPath id="c13"><circle cx="599.8" cy="495.8" r="73"/></clipPath>
<g fill="none" stroke="#ebebeb" stroke-width="0.6" stroke-dasharray="1 0.8"><circle cx="599.8" cy="495.8" r="21.2"/><circle cx="599.8" cy="495.8" r="42.4"/><circle cx="599.8" cy="495.8" r="63.6"/><path d="M526.8 495.8L672.8 495.8"/><path d="M536.5 532.3L663 459.3"/><path d="M563.2 559L636.2 432.6"/><path d="M599.8 568.8L599.8 422.8"/><path d="M636.2 559L563.2 432.6"/><path d="M663 532.3L536.5 459.3"/></g>
<g clip-path="url(#c13)">
<path fill="#A9E6E6" d="M599.8 495.8L617.9 495.8A18.1 18.1 0 0 0 616.8 489.6ZM599.8 495.8L616.3 489.8A17.6 17.6 0 0 0 613.2 484.5ZM599.8 495.8L613.4 484.4A17.8 17.8 0 0 0 608.6 480.4ZM599.8 495.8L611.2 476A22.9 22.9 0 0 0 603.7 473.2ZM599.8 495.8L603.5 474.5A21.6 21.6 0 0 0 596 474.5ZM599.8 495.8L595.5 472A24.2 24.2 0 0 0 587.6 474.8ZM599.8 495.8L586.6 473.1A26.2 26.2 0 0 0 579.7 479ZM599.8 495.8L578.7 478.1A27.5 27.5 0 0 0 573.9 486.4ZM599.8 495.8L581 489A20 20 0 0 0 579.8 495.8ZM599.8 495.8L581.6 495.8A18.1 18.1 0 0 0 582.7 502ZM599.8 495.8L583.2 501.8A17.6 17.6 0 0 0 586.3 507.1ZM599.8 495.8L586.1 507.2A17.8 17.8 0 0 0 590.9 511.2ZM599.8 495.8L588.3 515.6A22.9 22.9 0 0 0 595.8 518.4ZM599.8 495.8L596 517.1A21.6 21.6 0 0 0 603.5 517.1ZM599.8 495.8L604 519.6A24.2 24.2 0 0 0 611.9 516.8ZM599.8 495.8L612.9 518.5A26.2 26.2 0 0 0 619.8 512.6ZM599.8 495.8L620.8 513.5A27.5 27.5 0 0 0 625.6 505.2ZM599.8 495.8L618.5 502.6A20 20 0 0 0 619.8 495.8Z"/>
<path fill="#E8E07C" d="M599.8 495.8L660 495.8A60.3 60.3 0 0 0 656.4 475.2ZM599.8 495.8L632.1 484A34.4 34.4 0 0 0 626.1 473.7ZM599.8 495.8L621 477.9A27.8 27.8 0 0 0 613.6 471.7ZM599.8 495.8L609.2 479.3A19 19 0 0 0 603 477.1ZM599.8 495.8L604.5 468.9A27.3 27.3 0 0 0 595 468.9ZM599.8 495.8L594.9 468.5A27.7 27.7 0 0 0 585.9 471.8ZM599.8 495.8L569.5 443.4A60.5 60.5 0 0 0 553.4 456.9ZM599.8 495.8L549.7 453.8A65.3 65.3 0 0 0 538.4 473.5ZM599.8 495.8L540.1 474.1A63.5 63.5 0 0 0 536.2 495.8ZM599.8 495.8L539.5 495.8A60.3 60.3 0 0 0 543.1 516.4ZM599.8 495.8L567.4 507.6A34.4 34.4 0 0 0 573.4 517.9ZM599.8 495.8L578.5 513.7A27.8 27.8 0 0 0 585.9 519.9ZM599.8 495.8L590.2 512.3A19 19 0 0 0 596.5 514.5ZM599.8 495.8L595 522.7A27.3 27.3 0 0 0 604.5 522.7ZM599.8 495.8L604.6 523.1A27.7 27.7 0 0 0 613.6 519.8ZM599.8 495.8L630 548.2A60.5 60.5 0 0 0 646.1 534.7ZM599.8 495.8L649.8 537.8A65.3 65.3 0 0 0 661.1 518.1ZM599.8 495.8L659.4 517.5A63.5 63.5 0 0 0 663.2 495.8Z"/>
<path fill="#8EE0A8" d="M599.8 495.8L617.9 495.8A18.1 18.1 0 0 0 616.8 489.6ZM599.8 495.8L616.3 489.8A17.6 17.6 0 0 0 613.2 484.5ZM599.8 495.8L613.4 484.4A17.8 17.8 0 0 0 608.6 480.4ZM599.8 495.8L609.2 479.3A19 19 0 0 0 603 477.1ZM599.8 495.8L603.5 474.5A21.6 21.6 0 0 0 596 474.5ZM599.8 495.8L595.5 472A24.2 24.2 0 0 0 587.6 474.8ZM599.8 495.8L586.6 473.1A26.2 26.2 0 0 0 579.7 479ZM599.8 495.8L578.7 478.1A27.5 27.5 0 0 0 573.9 486.4ZM599.8 495.8L581 489A20 20 0 0 0 579.8 495.8ZM599.8 495.8L581.6 495.8A18.1 18.1 0 0 0 582.7 502ZM599.8 495.8L583.2 501.8A17.6 17.6 0 0 0 586.3 507.1ZM599.8 495.8L586.1 507.2A17.8 17.8 0 0 0 590.9 511.2ZM599.8 495.8L590.2 512.3A19 19 0 0 0 596.5 514.5ZM599.8 495.8L596 517.1A21.6 21.6 0 0 0 603.5 517.1ZM599.8 495.8L604 519.6A24.2 24.2 0 0 0 611.9 516.8ZM599.8 495.8L612.9 518.5A26.2 26.2 0 0 0 619.8 512.6ZM599.8 495.8L620.8 513.5A27.5 27.5 0 0 0 625.6 505.2ZM599.8 495.8L618.5 502.6A20 20 0 0 0 619.8 495.8Z"/>
<path fill="none" stroke="#1f2a2a" stroke-opacity="0.8" stroke-width="0.42" stroke-linejoin="round" d="M617.9 495.8A18.1 18.1 0 0 0 616.8 489.6M660 495.8A60.3 60.3 0 0 0 656.4 475.2M599.8 495.8L663.2 495.8M616.3 489.8A17.6 17.6 0 0 0 613.2 484.5M632.1 484A34.4 34.4 0 0 0 626.1 473.7M599.8 495.8L656.4 475.2M613.4 484.4A17.8 17.8 0 0 0 608.6 480.4M621 477.9A27.8 27.8 0 0 0 613.6 471.7M599.8 495.8L626.1 473.7M611.2 476A22.9 22.9 0 0 0 603.7 473.2M609.2 479.3A19 19 0 0 0 603 477.1M599.8 495.8L613.6 471.7M603.5 474.5A21.6 21.6 0 0 0 596 474.5M604.5 468.9A27.3 27.3 0 0 0 595 468.9M599.8 495.8L604.5 468.9M595.5 472A24.2 24.2 0 0 0 587.6 474.8M594.9 468.5A27.7 27.7 0 0 0 585.9 471.8M599.8 495.8L594.9 468.5M586.6 473.1A26.2 26.2 0 0 0 579.7 479M569.5 443.4A60.5 60.5 0 0 0 553.4 456.9M599.8 495.8L569.5 443.4M578.7 478.1A27.5 27.5 0 0 0 573.9 486.4M549.7 453.8A65.3 65.3 0 0 0 538.4 473.5M599.8 495.8L549.7 453.8M581 489A20 20 0 0 0 579.8 495.8M540.1 474.1A63.5 63.5 0 0 0 536.2 495.8M599.8 495.8L538.4 473.5M581.6 495.8A18.1 18.1 0 0 0 582.7 502M539.5 495.8A60.3 60.3 0 0 0 543.1 516.4M599.8 495.8L536.2 495.8M583.2 501.8A17.6 17.6 0 0 0 586.3 507.1M567.4 507.6A34.4 34.4 0 0 0 573.4 517.9M599.8 495.8L543.1 516.4M586.1 507.2A17.8 17.8 0 0 0 590.9 511.2M578.5 513.7A27.8 27.8 0 0 0 585.9 519.9M599.8 495.8L573.4 517.9M588.3 515.6A22.9 22.9 0 0 0 595.8 518.4M590.2 512.3A19 19 0 0 0 596.5 514.5M599.8 495.8L585.9 519.9M596 517.1A21.6 21.6 0 0 0 603.5 517.1M595 522.7A27.3 27.3 0 0 0 604.5 522.7M599.8 495.8L595 522.7M604 519.6A24.2 24.2 0 0 0 611.9 516.8M604.6 523.1A27.7 27.7 0 0 0 613.6 519.8M599.8 495.8L604.6 523.1M612.9 518.5A26.2 26.2 0 0 0 619.8 512.6M630 548.2A60.5 60.5 0 0 0 646.1 534.7M599.8 495.8L630 548.2M620.8 513.5A27.5 27.5 0 0 0 625.6 505.2M649.8 537.8A65.3 65.3 0 0 0 661.1 518.1M599.8 495.8L649.8 537.8M618.5 502.6A20 20 0 0 0 619.8 495.8M659.4 517.5A63.5 63.5 0 0 0 663.2 495.8M599.8 495.8L661.1 518.1"/>
</g>
<circle cx="599.8" cy="495.8" r="1.1" fill="#111"/>
<circle cx="599.8" cy="495.8" r="73" fill="none" stroke="#1a1a1a" stroke-width="0.9"/>
<text class="t" x="600" y="421.6">90</text>
<text class="t" x="600.5" y="579.1">270</text>
<text class="t" transform="translate(682.8 496.8) rotate(-90)">0</text>
<text class="t" transform="translate(524.9 496.6) rotate(-90)">180</text>
<text class="g" x="642.2" y="454.4">60</text>
<text class="n" x="534.6" y="432">iv.</text>
<clipPath id="c20"><circle cx="88.1" cy="757.4" r="73"/></clipPath>
<g fill="none" stroke="#ebebeb" stroke-width="0.6" stroke-dasharray="1 0.8"><circle cx="88.1" cy="757.4" r="30.7"/><circle cx="88.1" cy="757.4" r="61.3"/><path d="M15.1 757.4L161.1 757.4"/><path d="M24.9 793.9L151.3 720.9"/><path d="M51.6 820.6L124.6 694.2"/><path d="M88.1 830.4L88.1 684.4"/><path d="M124.6 820.6L51.6 694.2"/><path d="M151.3 793.9L24.9 720.9"/></g>
<g clip-path="url(#c20)">
<path fill="#A9E6E6" d="M88.1 757.4L117.6 757.4A29.5 29.5 0 0 0 115.8 747.3ZM88.1 757.4L105.8 751A18.8 18.8 0 0 0 102.5 745.3ZM88.1 757.4L100.1 747.3A15.7 15.7 0 0 0 95.9 743.8ZM88.1 757.4L92.9 749.1A9.6 9.6 0 0 0 89.8 747.9ZM88.1 757.4L89 752.5A5 5 0 0 0 87.2 752.5ZM88.1 757.4L86.7 749.5A8 8 0 0 0 84.1 750.5ZM88.1 757.4L82.1 747A12 12 0 0 0 78.9 749.7ZM88.1 757.4L62.8 736.2A33 33 0 0 0 57.1 746.1ZM88.1 757.4L36.7 738.7A54.7 54.7 0 0 0 33.4 757.4ZM88.1 757.4L58.6 757.4A29.5 29.5 0 0 0 60.4 767.5ZM88.1 757.4L70.4 763.8A18.8 18.8 0 0 0 73.7 769.5ZM88.1 757.4L76.1 767.5A15.7 15.7 0 0 0 80.2 771ZM88.1 757.4L83.3 765.7A9.6 9.6 0 0 0 86.4 766.9ZM88.1 757.4L87.2 762.3A5 5 0 0 0 89 762.3ZM88.1 757.4L89.5 765.3A8 8 0 0 0 92.1 764.3ZM88.1 757.4L94.1 767.8A12 12 0 0 0 97.3 765.1ZM88.1 757.4L113.4 778.6A33 33 0 0 0 119.1 768.7ZM88.1 757.4L139.5 776.1A54.7 54.7 0 0 0 142.8 757.4Z"/>
<path fill="#E8E07C" d="M88.1 757.4L120.1 757.4A32 32 0 0 0 118.2 746.5ZM88.1 757.4L107.4 750.4A20.5 20.5 0 0 0 103.8 744.2ZM88.1 757.4L106.5 742A24 24 0 0 0 100.1 736.6ZM88.1 757.4L103.7 730.4A31.2 31.2 0 0 0 93.5 726.7ZM88.1 757.4L95 718.3A39.7 39.7 0 0 0 81.2 718.3ZM88.1 757.4L78.2 701.1A57.2 57.2 0 0 0 59.5 707.9ZM88.1 757.4L54.4 699A67.4 67.4 0 0 0 36.5 714.1ZM88.1 757.4L42.4 719.1A59.6 59.6 0 0 0 32.1 737ZM88.1 757.4L45.3 741.8A45.6 45.6 0 0 0 42.5 757.4ZM88.1 757.4L56.1 757.4A32 32 0 0 0 58 768.3ZM88.1 757.4L68.8 764.4A20.5 20.5 0 0 0 72.4 770.6ZM88.1 757.4L69.7 772.8A24 24 0 0 0 76.1 778.2ZM88.1 757.4L72.5 784.4A31.2 31.2 0 0 0 82.7 788.1ZM88.1 757.4L81.2 796.5A39.7 39.7 0 0 0 95 796.5ZM88.1 757.4L98 813.7A57.2 57.2 0 0 0 116.7 806.9ZM88.1 757.4L121.8 815.8A67.4 67.4 0 0 0 139.7 800.7ZM88.1 757.4L133.8 795.7A59.6 59.6 0 0 0 144.1 777.8ZM88.1 757.4L130.9 773A45.6 45.6 0 0 0 133.7 757.4Z"/>
<path fill="#8EE0A8" d="M88.1 757.4L117.6 757.4A29.5 29.5 0 0 0 115.8 747.3ZM88.1 757.4L105.8 751A18.8 18.8 0 0 0 102.5 745.3ZM88.1 757.4L100.1 747.3A15.7 15.7 0 0 0 95.9 743.8ZM88.1 757.4L92.9 749.1A9.6 9.6 0 0 0 89.8 747.9ZM88.1 757.4L89 752.5A5 5 0 0 0 87.2 752.5ZM88.1 757.4L86.7 749.5A8 8 0 0 0 84.1 750.5ZM88.1 757.4L82.1 747A12 12 0 0 0 78.9 749.7ZM88.1 757.4L62.8 736.2A33 33 0 0 0 57.1 746.1ZM88.1 757.4L45.3 741.8A45.6 45.6 0 0 0 42.5 757.4ZM88.1 757.4L58.6 757.4A29.5 29.5 0 0 0 60.4 767.5ZM88.1 757.4L70.4 763.8A18.8 18.8 0 0 0 73.7 769.5ZM88.1 757.4L76.1 767.5A15.7 15.7 0 0 0 80.2 771ZM88.1 757.4L83.3 765.7A9.6 9.6 0 0 0 86.4 766.9ZM88.1 757.4L87.2 762.3A5 5 0 0 0 89 762.3ZM88.1 757.4L89.5 765.3A8 8 0 0 0 92.1 764.3ZM88.1 757.4L94.1 767.8A12 12 0 0 0 97.3 765.1ZM88.1 757.4L113.4 778.6A33 33 0 0 0 119.1 768.7ZM88.1 757.4L130.9 773A45.6 45.6 0 0 0 133.7 757.4Z"/>
<path fill="none" stroke="#1f2a2a" stroke-opacity="0.8" stroke-width="0.42" stroke-linejoin="round" d="M117.6 757.4A29.5 29.5 0 0 0 115.8 747.3M120.1 757.4A32 32 0 0 0 118.2 746.5M88.1 757.4L142.8 757.4M105.8 751A18.8 18.8 0 0 0 102.5 745.3M107.4 750.4A20.5 20.5 0 0 0 103.8 744.2M88.1 757.4L118.2 746.5M100.1 747.3A15.7 15.7 0 0 0 95.9 743.8M106.5 742A24 24 0 0 0 100.1 736.6M88.1 757.4L106.5 742M92.9 749.1A9.6 9.6 0 0 0 89.8 747.9M103.7 730.4A31.2 31.2 0 0 0 93.5 726.7M88.1 757.4L103.7 730.4M89 752.5A5 5 0 0 0 87.2 752.5M95 718.3A39.7 39.7 0 0 0 81.2 718.3M88.1 757.4L95 718.3M86.7 749.5A8 8 0 0 0 84.1 750.5M78.2 701.1A57.2 57.2 0 0 0 59.5 707.9M88.1 757.4L78.2 701.1M82.1 747A12 12 0 0 0 78.9 749.7M54.4 699A67.4 67.4 0 0 0 36.5 714.1M88.1 757.4L54.4 699M62.8 736.2A33 33 0 0 0 57.1 746.1M42.4 719.1A59.6 59.6 0 0 0 32.1 737M88.1 757.4L36.5 714.1M36.7 738.7A54.7 54.7 0 0 0 33.4 757.4M45.3 741.8A45.6 45.6 0 0 0 42.5 757.4M88.1 757.4L32.1 737M58.6 757.4A29.5 29.5 0 0 0 60.4 767.5M56.1 757.4A32 32 0 0 0 58 768.3M88.1 757.4L33.4 757.4M70.4 763.8A18.8 18.8 0 0 0 73.7 769.5M68.8 764.4A20.5 20.5 0 0 0 72.4 770.6M88.1 757.4L58 768.3M76.1 767.5A15.7 15.7 0 0 0 80.2 771M69.7 772.8A24 24 0 0 0 76.1 778.2M88.1 757.4L69.7 772.8M83.3 765.7A9.6 9.6 0 0 0 86.4 766.9M72.5 784.4A31.2 31.2 0 0 0 82.7 788.1M88.1 757.4L72.5 784.4M87.2 762.3A5 5 0 0 0 89 762.3M81.2 796.5A39.7 39.7 0 0 0 95 796.5M88.1 757.4L81.2 796.5M89.5 765.3A8 8 0 0 0 92.1 764.3M98 813.7A57.2 57.2 0 0 0 116.7 806.9M88.1 757.4L98 813.7M94.1 767.8A12 12 0 0 0 97.3 765.1M121.8 815.8A67.4 67.4 0 0 0 139.7 800.7M88.1 757.4L121.8 815.8M113.4 778.6A33 33 0 0 0 119.1 768.7M133.8 795.7A59.6 59.6 0 0 0 144.1 777.8M88.1 757.4L139.7 800.7M139.5 776.1A54.7 54.7 0 0 0 142.8 757.4M130.9 773A45.6 45.6 0 0 0 133.7 757.4M88.1 757.4L144.1 777.8"/>
</g>
<circle cx="88.1" cy="757.4" r="1.1" fill="#111"/>
<circle cx="88.1" cy="757.4" r="73" fill="none" stroke="#1a1a1a" stroke-width="0.9"/>
<text class="t" x="88.3" y="682.4">90</text>
<text class="t" x="88.9" y="840.7">270</text>
<text class="t" transform="translate(170.7 758.4) rotate(-90)">0</text>
<text class="t" transform="translate(13.2 758.2) rotate(-90)">180</text>
<text class="g" x="129.5" y="718.1">40</text>
<text class="n" x="26.9" y="694.2">i.</text>
<clipPath id="c21"><circle cx="258.6" cy="757.4" r="73"/></clipPath>
<g fill="none" stroke="#ebebeb" stroke-width="0.6" stroke-dasharray="1 0.8"><circle cx="258.6" cy="757.4" r="30.2"/><circle cx="258.6" cy="757.4" r="60.5"/><path d="M185.6 757.4L331.6 757.4"/><path d="M195.3 793.9L321.8 720.9"/><path d="M222.1 820.6L295.1 694.2"/><path d="M258.6 830.4L258.6 684.4"/><path d="M295.1 820.6L222.1 694.2"/><path d="M321.8 793.9L195.3 720.9"/></g>
<g clip-path="url(#c21)">
<path fill="#A9E6E6" d="M258.6 757.4L270.2 757.4A11.7 11.7 0 0 0 269.5 753.4ZM258.6 757.4L266.5 754.5A8.5 8.5 0 0 0 265.1 751.9ZM258.6 757.4L271.2 746.8A16.5 16.5 0 0 0 266.8 743.1ZM258.6 757.4L269.9 737.7A22.7 22.7 0 0 0 262.5 735ZM258.6 757.4L266.3 713.2A44.9 44.9 0 0 0 250.8 713.2ZM258.6 757.4L250.7 713A45.1 45.1 0 0 0 236 718.3ZM258.6 757.4L246.2 735.9A24.8 24.8 0 0 0 239.6 741.5ZM258.6 757.4L248.4 748.9A13.2 13.2 0 0 0 246.1 752.9ZM258.6 757.4L247.5 753.4A11.8 11.8 0 0 0 246.8 757.4ZM258.6 757.4L246.9 757.4A11.7 11.7 0 0 0 247.6 761.4ZM258.6 757.4L250.6 760.3A8.5 8.5 0 0 0 252 762.9ZM258.6 757.4L245.9 768A16.5 16.5 0 0 0 250.3 771.7ZM258.6 757.4L247.2 777.1A22.7 22.7 0 0 0 254.6 779.8ZM258.6 757.4L250.8 801.6A44.9 44.9 0 0 0 266.3 801.6ZM258.6 757.4L266.4 801.8A45.1 45.1 0 0 0 281.1 796.5ZM258.6 757.4L270.9 778.9A24.8 24.8 0 0 0 277.5 773.3ZM258.6 757.4L268.7 765.9A13.2 13.2 0 0 0 271 761.9ZM258.6 757.4L269.6 761.4A11.8 11.8 0 0 0 270.4 757.4Z"/>
<path fill="#E8E07C" d="M258.6 757.4L323.2 757.4A64.7 64.7 0 0 0 319.3 735.3ZM258.6 757.4L324.8 733.3A70.5 70.5 0 0 0 312.6 712.1ZM258.6 757.4L301.1 721.7A55.5 55.5 0 0 0 286.3 709.3ZM258.6 757.4L278.4 723A39.7 39.7 0 0 0 265.4 718.3ZM258.6 757.4L261.3 741.6A16 16 0 0 0 255.8 741.6ZM258.6 757.4L256.8 747.6A10 10 0 0 0 253.6 748.7ZM258.6 757.4L246.8 737A23.6 23.6 0 0 0 240.5 742.2ZM258.6 757.4L233.2 736.1A33.1 33.1 0 0 0 227.4 746.1ZM258.6 757.4L208.9 739.3A52.8 52.8 0 0 0 205.8 757.4ZM258.6 757.4L193.9 757.4A64.7 64.7 0 0 0 197.8 779.5ZM258.6 757.4L192.3 781.5A70.5 70.5 0 0 0 204.5 802.7ZM258.6 757.4L216 793.1A55.5 55.5 0 0 0 230.8 805.5ZM258.6 757.4L238.7 791.8A39.7 39.7 0 0 0 251.7 796.5ZM258.6 757.4L255.8 773.2A16 16 0 0 0 261.3 773.2ZM258.6 757.4L260.3 767.2A10 10 0 0 0 263.6 766.1ZM258.6 757.4L270.4 777.8A23.6 23.6 0 0 0 276.6 772.6ZM258.6 757.4L283.9 778.7A33.1 33.1 0 0 0 289.7 768.7ZM258.6 757.4L308.2 775.5A52.8 52.8 0 0 0 311.4 757.4Z"/>
<path fill="#8EE0A8" d="M258.6 757.4L270.2 757.4A11.7 11.7 0 0 0 269.5 753.4ZM258.6 757.4L266.5 754.5A8.5 8.5 0 0 0 265.1 751.9ZM258.6 757.4L271.2 746.8A16.5 16.5 0 0 0 266.8 743.1ZM258.6 757.4L269.9 737.7A22.7 22.7 0 0 0 262.5 735ZM258.6 757.4L261.3 741.6A16 16 0 0 0 255.8 741.6ZM258.6 757.4L256.8 747.6A10 10 0 0 0 253.6 748.7ZM258.6 757.4L246.8 737A23.6 23.6 0 0 0 240.5 742.2ZM258.6 757.4L248.4 748.9A13.2 13.2 0 0 0 246.1 752.9ZM258.6 757.4L247.5 753.4A11.8 11.8 0 0 0 246.8 757.4ZM258.6 757.4L246.9 757.4A11.7 11.7 0 0 0 247.6 761.4ZM258.6 757.4L250.6 760.3A8.5 8.5 0 0 0 252 762.9ZM258.6 757.4L245.9 768A16.5 16.5 0 0 0 250.3 771.7ZM258.6 757.4L247.2 777.1A22.7 22.7 0 0 0 254.6 779.8ZM258.6 757.4L255.8 773.2A16 16 0 0 0 261.3 773.2ZM258.6 757.4L260.3 767.2A10 10 0 0 0 263.6 766.1ZM258.6 757.4L270.4 777.8A23.6 23.6 0 0 0 276.6 772.6ZM258.6 757.4L268.7 765.9A13.2 13.2 0 0 0 271 761.9ZM258.6 757.4L269.6 761.4A11.8 11.8 0 0 0 270.4 757.4Z"/>
<path fill="none" stroke="#1f2a2a" stroke-opacity="0.8" stroke-width="0.42" stroke-linejoin="round" d="M270.2 757.4A11.7 11.7 0 0 0 269.5 753.4M323.2 757.4A64.7 64.7 0 0 0 319.3 735.3M258.6 757.4L323.2 757.4M266.5 754.5A8.5 8.5 0 0 0 265.1 751.9M324.8 733.3A70.5 70.5 0 0 0 312.6 712.1M258.6 757.4L324.8 733.3M271.2 746.8A16.5 16.5 0 0 0 266.8 743.1M301.1 721.7A55.5 55.5 0 0 0 286.3 709.3M258.6 757.4L312.6 712.1M269.9 737.7A22.7 22.7 0 0 0 262.5 735M278.4 723A39.7 39.7 0 0 0 265.4 718.3M258.6 757.4L286.3 709.3M266.3 713.2A44.9 44.9 0 0 0 250.8 713.2M261.3 741.6A16 16 0 0 0 255.8 741.6M258.6 757.4L266.3 713.2M250.7 713A45.1 45.1 0 0 0 236 718.3M256.8 747.6A10 10 0 0 0 253.6 748.7M258.6 757.4L250.7 713M246.2 735.9A24.8 24.8 0 0 0 239.6 741.5M246.8 737A23.6 23.6 0 0 0 240.5 742.2M258.6 757.4L236 718.3M248.4 748.9A13.2 13.2 0 0 0 246.1 752.9M233.2 736.1A33.1 33.1 0 0 0 227.4 746.1M258.6 757.4L233.2 736.1M247.5 753.4A11.8 11.8 0 0 0 246.8 757.4M208.9 739.3A52.8 52.8 0 0 0 205.8 757.4M258.6 757.4L208.9 739.3M246.9 757.4A11.7 11.7 0 0 0 247.6 761.4M193.9 757.4A64.7 64.7 0 0 0 197.8 779.5M258.6 757.4L193.9 757.4M250.6 760.3A8.5 8.5 0 0 0 252 762.9M192.3 781.5A70.5 70.5 0 0 0 204.5 802.7M258.6 757.4L192.3 781.5M245.9 768A16.5 16.5 0 0 0 250.3 771.7M216 793.1A55.5 55.5 0 0 0 230.8 805.5M258.6 757.4L204.5 802.7M247.2 777.1A22.7 22.7 0 0 0 254.6 779.8M238.7 791.8A39.7 39.7 0 0 0 251.7 796.5M258.6 757.4L230.8 805.5M250.8 801.6A44.9 44.9 0 0 0 266.3 801.6M255.8 773.2A16 16 0 0 0 261.3 773.2M258.6 757.4L250.8 801.6M266.4 801.8A45.1 45.1 0 0 0 281.1 796.5M260.3 767.2A10 10 0 0 0 263.6 766.1M258.6 757.4L266.4 801.8M270.9 778.9A24.8 24.8 0 0 0 277.5 773.3M270.4 777.8A23.6 23.6 0 0 0 276.6 772.6M258.6 757.4L281.1 796.5M268.7 765.9A13.2 13.2 0 0 0 271 761.9M283.9 778.7A33.1 33.1 0 0 0 289.7 768.7M258.6 757.4L283.9 778.7M269.6 761.4A11.8 11.8 0 0 0 270.4 757.4M308.2 775.5A52.8 52.8 0 0 0 311.4 757.4M258.6 757.4L308.2 775.5"/>
</g>
<circle cx="258.6" cy="757.4" r="1.1" fill="#111"/>
<circle cx="258.6" cy="757.4" r="73" fill="none" stroke="#1a1a1a" stroke-width="0.9"/>
<text class="t" x="258.8" y="682.4">90</text>
<text class="t" x="259.4" y="840.7">270</text>
<text class="t" transform="translate(341.2 758.4) rotate(-90)">0</text>
<text class="t" transform="translate(183.7 758.2) rotate(-90)">180</text>
<text class="g" x="275.5" y="704.8">40</text>
<text class="n" x="195.2" y="694.2">ii.</text>
<clipPath id="c22"><circle cx="429" cy="757.4" r="73"/></clipPath>
<g fill="none" stroke="#ebebeb" stroke-width="0.6" stroke-dasharray="1 0.8"><circle cx="429" cy="757.4" r="18.9"/><circle cx="429" cy="757.4" r="37.9"/><circle cx="429" cy="757.4" r="56.8"/><path d="M356 757.4L502 757.4"/><path d="M365.8 793.9L492.2 720.9"/><path d="M392.5 820.6L465.5 694.2"/><path d="M429 830.4L429 684.4"/><path d="M465.5 820.6L392.5 694.2"/><path d="M492.2 793.9L365.8 720.9"/></g>
<g clip-path="url(#c22)">
<path fill="#A9E6E6" d="M429 757.4L479.3 757.4A50.3 50.3 0 0 0 476.3 740.2ZM429 757.4L482.8 737.8A57.3 57.3 0 0 0 472.9 720.6ZM429 757.4L457.5 733.5A37.2 37.2 0 0 0 447.6 725.2ZM429 757.4L436.1 745.1A14.2 14.2 0 0 0 431.5 743.4ZM429 757.4L429.9 752.5A5 5 0 0 0 428.1 752.5ZM429 757.4L427.6 749.5A8 8 0 0 0 425 750.5ZM429 757.4L422.8 746.7A12.4 12.4 0 0 0 419.5 749.4ZM429 757.4L413.3 744.2A20.5 20.5 0 0 0 409.7 750.4ZM429 757.4L408.7 750A21.6 21.6 0 0 0 407.4 757.4ZM429 757.4L378.7 757.4A50.3 50.3 0 0 0 381.7 774.6ZM429 757.4L375.2 777A57.3 57.3 0 0 0 385.1 794.2ZM429 757.4L400.5 781.3A37.2 37.2 0 0 0 410.4 789.6ZM429 757.4L421.9 769.7A14.2 14.2 0 0 0 426.5 771.4ZM429 757.4L428.1 762.3A5 5 0 0 0 429.9 762.3ZM429 757.4L430.4 765.3A8 8 0 0 0 433 764.3ZM429 757.4L435.2 768.1A12.4 12.4 0 0 0 438.5 765.4ZM429 757.4L444.7 770.6A20.5 20.5 0 0 0 448.3 764.4ZM429 757.4L449.3 764.8A21.6 21.6 0 0 0 450.6 757.4Z"/>
<path fill="#E8E07C" d="M429 757.4L495.8 757.4A66.8 66.8 0 0 0 491.8 734.6ZM429 757.4L461.9 745.4A35 35 0 0 0 455.8 734.9ZM429 757.4L444.9 744A20.8 20.8 0 0 0 439.4 739.4ZM429 757.4L438.1 741.6A18.2 18.2 0 0 0 432.2 739.5ZM429 757.4L431.8 741.2A16.4 16.4 0 0 0 426.2 741.2ZM429 757.4L425.4 736.9A20.8 20.8 0 0 0 418.6 739.4ZM429 757.4L412.1 728.1A33.8 33.8 0 0 0 403.1 735.7ZM429 757.4L389.2 724A51.9 51.9 0 0 0 380.2 739.6ZM429 757.4L366 734.5A67 67 0 0 0 362 757.4ZM429 757.4L362.2 757.4A66.8 66.8 0 0 0 366.2 780.2ZM429 757.4L396.1 769.4A35 35 0 0 0 402.2 779.9ZM429 757.4L413.1 770.8A20.8 20.8 0 0 0 418.6 775.4ZM429 757.4L419.9 773.2A18.2 18.2 0 0 0 425.8 775.3ZM429 757.4L426.2 773.6A16.4 16.4 0 0 0 431.8 773.6ZM429 757.4L432.6 777.9A20.8 20.8 0 0 0 439.4 775.4ZM429 757.4L445.9 786.7A33.8 33.8 0 0 0 454.9 779.1ZM429 757.4L468.8 790.8A51.9 51.9 0 0 0 477.8 775.2ZM429 757.4L492 780.3A67 67 0 0 0 496 757.4Z"/>
<path fill="#8EE0A8" d="M429 757.4L479.3 757.4A50.3 50.3 0 0 0 476.3 740.2ZM429 757.4L461.9 745.4A35 35 0 0 0 455.8 734.9ZM429 757.4L444.9 744A20.8 20.8 0 0 0 439.4 739.4ZM429 757.4L436.1 745.1A14.2 14.2 0 0 0 431.5 743.4ZM429 757.4L429.9 752.5A5 5 0 0 0 428.1 752.5ZM429 757.4L427.6 749.5A8 8 0 0 0 425 750.5ZM429 757.4L422.8 746.7A12.4 12.4 0 0 0 419.5 749.4ZM429 757.4L413.3 744.2A20.5 20.5 0 0 0 409.7 750.4ZM429 757.4L408.7 750A21.6 21.6 0 0 0 407.4 757.4ZM429 757.4L378.7 757.4A50.3 50.3 0 0 0 381.7 774.6ZM429 757.4L396.1 769.4A35 35 0 0 0 402.2 779.9ZM429 757.4L413.1 770.8A20.8 20.8 0 0 0 418.6 775.4ZM429 757.4L421.9 769.7A14.2 14.2 0 0 0 426.5 771.4ZM429 757.4L428.1 762.3A5 5 0 0 0 429.9 762.3ZM429 757.4L430.4 765.3A8 8 0 0 0 433 764.3ZM429 757.4L435.2 768.1A12.4 12.4 0 0 0 438.5 765.4ZM429 757.4L444.7 770.6A20.5 20.5 0 0 0 448.3 764.4ZM429 757.4L449.3 764.8A21.6 21.6 0 0 0 450.6 757.4Z"/>
<path fill="none" stroke="#1f2a2a" stroke-opacity="0.8" stroke-width="0.42" stroke-linejoin="round" d="M479.3 757.4A50.3 50.3 0 0 0 476.3 740.2M495.8 757.4A66.8 66.8 0 0 0 491.8 734.6M429 757.4L496 757.4M482.8 737.8A57.3 57.3 0 0 0 472.9 720.6M461.9 745.4A35 35 0 0 0 455.8 734.9M429 757.4L491.8 734.6M457.5 733.5A37.2 37.2 0 0 0 447.6 725.2M444.9 744A20.8 20.8 0 0 0 439.4 739.4M429 757.4L472.9 720.6M436.1 745.1A14.2 14.2 0 0 0 431.5 743.4M438.1 741.6A18.2 18.2 0 0 0 432.2 739.5M429 757.4L447.6 725.2M429.9 752.5A5 5 0 0 0 428.1 752.5M431.8 741.2A16.4 16.4 0 0 0 426.2 741.2M429 757.4L432.2 739.5M427.6 749.5A8 8 0 0 0 425 750.5M425.4 736.9A20.8 20.8 0 0 0 418.6 739.4M429 757.4L425.4 736.9M422.8 746.7A12.4 12.4 0 0 0 419.5 749.4M412.1 728.1A33.8 33.8 0 0 0 403.1 735.7M429 757.4L412.1 728.1M413.3 744.2A20.5 20.5 0 0 0 409.7 750.4M389.2 724A51.9 51.9 0 0 0 380.2 739.6M429 757.4L389.2 724M408.7 750A21.6 21.6 0 0 0 407.4 757.4M366 734.5A67 67 0 0 0 362 757.4M429 757.4L366 734.5M378.7 757.4A50.3 50.3 0 0 0 381.7 774.6M362.2 757.4A66.8 66.8 0 0 0 366.2 780.2M429 757.4L362 757.4M375.2 777A57.3 57.3 0 0 0 385.1 794.2M396.1 769.4A35 35 0 0 0 402.2 779.9M429 757.4L366.2 780.2M400.5 781.3A37.2 37.2 0 0 0 410.4 789.6M413.1 770.8A20.8 20.8 0 0 0 418.6 775.4M429 757.4L385.1 794.2M421.9 769.7A14.2 14.2 0 0 0 426.5 771.4M419.9 773.2A18.2 18.2 0 0 0 425.8 775.3M429 757.4L410.4 789.6M428.1 762.3A5 5 0 0 0 429.9 762.3M426.2 773.6A16.4 16.4 0 0 0 431.8 773.6M429 757.4L425.8 775.3M430.4 765.3A8 8 0 0 0 433 764.3M432.6 777.9A20.8 20.8 0 0 0 439.4 775.4M429 757.4L432.6 777.9M435.2 768.1A12.4 12.4 0 0 0 438.5 765.4M445.9 786.7A33.8 33.8 0 0 0 454.9 779.1M429 757.4L445.9 786.7M444.7 770.6A20.5 20.5 0 0 0 448.3 764.4M468.8 790.8A51.9 51.9 0 0 0 477.8 775.2M429 757.4L468.8 790.8M449.3 764.8A21.6 21.6 0 0 0 450.6 757.4M492 780.3A67 67 0 0 0 496 757.4M429 757.4L492 780.3"/>
</g>
<circle cx="429" cy="757.4" r="1.1" fill="#111"/>
<circle cx="429" cy="757.4" r="73" fill="none" stroke="#1a1a1a" stroke-width="0.9"/>
<text class="t" x="429.2" y="682.4">90</text>
<text class="t" x="429.8" y="840.7">270</text>
<text class="t" transform="translate(511.6 758.4) rotate(-90)">0</text>
<text class="t" transform="translate(354.1 758.2) rotate(-90)">180</text>
<text class="g" x="442.3" y="707.6">60</text>
<text class="n" x="363.9" y="695.2">iii.</text>
<clipPath id="c23"><circle cx="599.4" cy="757.4" r="73"/></clipPath>
<g fill="none" stroke="#ebebeb" stroke-width="0.6" stroke-dasharray="1 0.8"><circle cx="599.4" cy="757.4" r="25.2"/><circle cx="599.4" cy="757.4" r="50.4"/><path d="M526.4 757.4L672.4 757.4"/><path d="M536.2 793.9L662.6 720.9"/><path d="M562.9 820.6L635.9 694.2"/><path d="M599.4 830.4L599.4 684.4"/><path d="M635.9 820.6L562.9 694.2"/><path d="M662.6 793.9L536.2 720.9"/></g>
<g clip-path="url(#c23)">
<path fill="#A9E6E6" d="M599.4 757.4L666.7 757.4A67.3 67.3 0 0 0 662.6 734.4ZM599.4 757.4L625.3 748A27.6 27.6 0 0 0 620.5 739.7ZM599.4 757.4L609.4 749A13 13 0 0 0 605.9 746.1ZM599.4 757.4L601.9 753.1A5 5 0 0 0 600.3 752.5ZM599.4 757.4L600.1 753.5A4 4 0 0 0 598.7 753.5ZM599.4 757.4L598.5 752.5A5 5 0 0 0 596.9 753.1ZM599.4 757.4L593.3 746.8A12.2 12.2 0 0 0 590.1 749.6ZM599.4 757.4L577.6 739.1A28.5 28.5 0 0 0 572.6 747.7ZM599.4 757.4L545.6 737.8A57.2 57.2 0 0 0 542.2 757.4ZM599.4 757.4L532.1 757.4A67.3 67.3 0 0 0 536.2 780.4ZM599.4 757.4L573.5 766.8A27.6 27.6 0 0 0 578.3 775.1ZM599.4 757.4L589.4 765.8A13 13 0 0 0 592.9 768.7ZM599.4 757.4L596.9 761.7A5 5 0 0 0 598.5 762.3ZM599.4 757.4L598.7 761.3A4 4 0 0 0 600.1 761.3ZM599.4 757.4L600.3 762.3A5 5 0 0 0 601.9 761.7ZM599.4 757.4L605.5 768A12.2 12.2 0 0 0 608.7 765.2ZM599.4 757.4L621.2 775.7A28.5 28.5 0 0 0 626.2 767.1ZM599.4 757.4L653.2 777A57.2 57.2 0 0 0 656.6 757.4Z"/>
<path fill="#E8E07C" d="M599.4 757.4L627.5 757.4A28.1 28.1 0 0 0 625.8 747.8ZM599.4 757.4L621.3 749.4A23.3 23.3 0 0 0 617.2 742.4ZM599.4 757.4L632 730A42.6 42.6 0 0 0 620.7 720.5ZM599.4 757.4L615.4 729.7A32 32 0 0 0 605 725.9ZM599.4 757.4L605.6 722.4A35.5 35.5 0 0 0 593.2 722.4ZM599.4 757.4L595.4 734.7A23 23 0 0 0 587.9 737.5ZM599.4 757.4L589.6 740.4A19.6 19.6 0 0 0 584.4 744.8ZM599.4 757.4L585.3 745.6A18.4 18.4 0 0 0 582.1 751.1ZM599.4 757.4L582.2 751.1A18.3 18.3 0 0 0 581.1 757.4ZM599.4 757.4L571.3 757.4A28.1 28.1 0 0 0 573 767ZM599.4 757.4L577.5 765.4A23.3 23.3 0 0 0 581.6 772.4ZM599.4 757.4L566.8 784.8A42.6 42.6 0 0 0 578.1 794.3ZM599.4 757.4L583.4 785.1A32 32 0 0 0 593.8 788.9ZM599.4 757.4L593.2 792.4A35.5 35.5 0 0 0 605.6 792.4ZM599.4 757.4L603.4 780.1A23 23 0 0 0 610.9 777.3ZM599.4 757.4L609.2 774.4A19.6 19.6 0 0 0 614.4 770ZM599.4 757.4L613.5 769.2A18.4 18.4 0 0 0 616.7 763.7ZM599.4 757.4L616.6 763.7A18.3 18.3 0 0 0 617.7 757.4Z"/>
<path fill="#8EE0A8" d="M599.4 757.4L627.5 757.4A28.1 28.1 0 0 0 625.8 747.8ZM599.4 757.4L621.3 749.4A23.3 23.3 0 0 0 617.2 742.4ZM599.4 757.4L609.4 749A13 13 0 0 0 605.9 746.1ZM599.4 757.4L601.9 753.1A5 5 0 0 0 600.3 752.5ZM599.4 757.4L600.1 753.5A4 4 0 0 0 598.7 753.5ZM599.4 757.4L598.5 752.5A5 5 0 0 0 596.9 753.1ZM599.4 757.4L593.3 746.8A12.2 12.2 0 0 0 590.1 749.6ZM599.4 757.4L585.3 745.6A18.4 18.4 0 0 0 582.1 751.1ZM599.4 757.4L582.2 751.1A18.3 18.3 0 0 0 581.1 757.4ZM599.4 757.4L571.3 757.4A28.1 28.1 0 0 0 573 767ZM599.4 757.4L577.5 765.4A23.3 23.3 0 0 0 581.6 772.4ZM599.4 757.4L589.4 765.8A13 13 0 0 0 592.9 768.7ZM599.4 757.4L596.9 761.7A5 5 0 0 0 598.5 762.3ZM599.4 757.4L598.7 761.3A4 4 0 0 0 600.1 761.3ZM599.4 757.4L600.3 762.3A5 5 0 0 0 601.9 761.7ZM599.4 757.4L605.5 768A12.2 12.2 0 0 0 608.7 765.2ZM599.4 757.4L613.5 769.2A18.4 18.4 0 0 0 616.7 763.7ZM599.4 757.4L616.6 763.7A18.3 18.3 0 0 0 617.7 757.4Z"/>
<path fill="none" stroke="#1f2a2a" stroke-opacity="0.8" stroke-width="0.42" stroke-linejoin="round" d="M666.7 757.4A67.3 67.3 0 0 0 662.6 734.4M627.5 757.4A28.1 28.1 0 0 0 625.8 747.8M599.4 757.4L666.7 757.4M625.3 748A27.6 27.6 0 0 0 620.5 739.7M621.3 749.4A23.3 23.3 0 0 0 617.2 742.4M599.4 757.4L662.6 734.4M609.4 749A13 13 0 0 0 605.9 746.1M632 730A42.6 42.6 0 0 0 620.7 720.5M599.4 757.4L632 730M601.9 753.1A5 5 0 0 0 600.3 752.5M615.4 729.7A32 32 0 0 0 605 725.9M599.4 757.4L620.7 720.5M600.1 753.5A4 4 0 0 0 598.7 753.5M605.6 722.4A35.5 35.5 0 0 0 593.2 722.4M599.4 757.4L605.6 722.4M598.5 752.5A5 5 0 0 0 596.9 753.1M595.4 734.7A23 23 0 0 0 587.9 737.5M599.4 757.4L593.2 722.4M593.3 746.8A12.2 12.2 0 0 0 590.1 749.6M589.6 740.4A19.6 19.6 0 0 0 584.4 744.8M599.4 757.4L587.9 737.5M577.6 739.1A28.5 28.5 0 0 0 572.6 747.7M585.3 745.6A18.4 18.4 0 0 0 582.1 751.1M599.4 757.4L577.6 739.1M545.6 737.8A57.2 57.2 0 0 0 542.2 757.4M582.2 751.1A18.3 18.3 0 0 0 581.1 757.4M599.4 757.4L545.6 737.8M532.1 757.4A67.3 67.3 0 0 0 536.2 780.4M571.3 757.4A28.1 28.1 0 0 0 573 767M599.4 757.4L532.1 757.4M573.5 766.8A27.6 27.6 0 0 0 578.3 775.1M577.5 765.4A23.3 23.3 0 0 0 581.6 772.4M599.4 757.4L536.2 780.4M589.4 765.8A13 13 0 0 0 592.9 768.7M566.8 784.8A42.6 42.6 0 0 0 578.1 794.3M599.4 757.4L566.8 784.8M596.9 761.7A5 5 0 0 0 598.5 762.3M583.4 785.1A32 32 0 0 0 593.8 788.9M599.4 757.4L578.1 794.3M598.7 761.3A4 4 0 0 0 600.1 761.3M593.2 792.4A35.5 35.5 0 0 0 605.6 792.4M599.4 757.4L593.2 792.4M600.3 762.3A5 5 0 0 0 601.9 761.7M603.4 780.1A23 23 0 0 0 610.9 777.3M599.4 757.4L605.6 792.4M605.5 768A12.2 12.2 0 0 0 608.7 765.2M609.2 774.4A19.6 19.6 0 0 0 614.4 770M599.4 757.4L610.9 777.3M621.2 775.7A28.5 28.5 0 0 0 626.2 767.1M613.5 769.2A18.4 18.4 0 0 0 616.7 763.7M599.4 757.4L621.2 775.7M653.2 777A57.2 57.2 0 0 0 656.6 757.4M616.6 763.7A18.3 18.3 0 0 0 617.7 757.4M599.4 757.4L653.2 777"/>
</g>
<circle cx="599.4" cy="757.4" r="1.1" fill="#111"/>
<circle cx="599.4" cy="757.4" r="73" fill="none" stroke="#1a1a1a" stroke-width="0.9"/>
<text class="t" x="599.6" y="682.4">90</text>
<text class="t" x="600.2" y="840.7">270</text>
<text class="t" transform="translate(682 758.4) rotate(-90)">0</text>
<text class="t" transform="translate(524.5 758.2) rotate(-90)">180</text>
<text class="g" x="617.4" y="715.8">40</text>
<text class="n" x="534.7" y="694.2">iv.</text>
<path d="M88.2 317.8L153.3 351.8M260.7 317.4L227.7 364.3M431.5 318.5L393.4 361.8M600.3 318.9L513.7 359.3M88.2 581L86.1 611.1M263.4 580L164 623.5M429.9 581L433.1 623.5M600.8 581.2L492.7 619.3M90.8 843L62.3 892.6M263.2 842.4L178.9 880.7M433.1 842.4L372.3 880.9M599.8 843L631.6 895.1" fill="none" stroke="#a6a6a6" stroke-width="1.5" stroke-dasharray="6.5 3.6" stroke-dashoffset="3"/>
<path d="M0 121H685" stroke="#111" stroke-width="2"/>
<path d="M0 384.4H685" stroke="#111" stroke-width="2.6"/>
<path d="M0 647.9H685" stroke="#111" stroke-width="2.4"/>
<path d="M0 0H685V1.8H0ZM0 0H1.3V913H0ZM682.9 0H685V913H682.9ZM0 910.7H685V913H0Z" fill="#111"/>
</svg>
</body></html>
